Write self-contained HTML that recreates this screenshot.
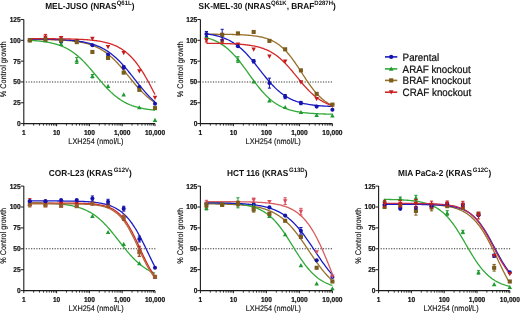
<!DOCTYPE html>
<html><head><meta charset="utf-8"><style>
html,body{margin:0;padding:0;background:#fff;width:520px;height:313px;overflow:hidden}
svg{display:block;will-change:transform}
text{font-family:'Liberation Sans', sans-serif;fill:#111;text-rendering:geometricPrecision}
.tk{font-size:6.6px;font-weight:bold;stroke:#1a1a1a;stroke-width:0.2px}
.at{font-size:7.3px;stroke:#111;stroke-width:0.12px}
.ti{font-size:8.3px;font-weight:bold}
.sup{font-size:6px}
.lg{font-size:9.8px;stroke:#111;stroke-width:0.22px}
</style></head><body>
<svg width="520" height="313" viewBox="0 0 520 313">
<line x1="25.80" y1="81.95" x2="156.00" y2="81.95" stroke="#333" stroke-width="1.1" stroke-dasharray="1.2 1.42"/>
<polyline points="29.80,39.40 30.85,39.41 31.89,39.42 32.93,39.42 33.98,39.43 35.02,39.44 36.06,39.45 37.11,39.46 38.15,39.48 39.19,39.49 40.24,39.50 41.28,39.52 42.32,39.53 43.37,39.55 44.41,39.57 45.45,39.59 46.50,39.61 47.54,39.63 48.58,39.65 49.63,39.68 50.67,39.70 51.71,39.73 52.76,39.76 53.80,39.80 54.84,39.83 55.89,39.87 56.93,39.91 57.97,39.96 59.02,40.00 60.06,40.05 61.10,40.11 62.15,40.16 63.19,40.23 64.23,40.29 65.28,40.36 66.32,40.44 67.36,40.52 68.41,40.60 69.45,40.70 70.49,40.80 71.54,40.90 72.58,41.01 73.62,41.13 74.67,41.26 75.71,41.40 76.75,41.55 77.80,41.70 78.84,41.87 79.88,42.05 80.93,42.24 81.97,42.44 83.01,42.66 84.06,42.89 85.10,43.13 86.14,43.39 87.19,43.67 88.23,43.97 89.27,44.28 90.32,44.61 91.36,44.97 92.40,45.34 93.44,45.74 94.49,46.16 95.53,46.61 96.57,47.08 97.62,47.58 98.66,48.10 99.70,48.66 100.75,49.24 101.79,49.85 102.83,50.50 103.88,51.18 104.92,51.89 105.96,52.63 107.01,53.41 108.05,54.22 109.09,55.07 110.14,55.95 111.18,56.87 112.22,57.82 113.27,58.80 114.31,59.82 115.35,60.87 116.40,61.95 117.44,63.06 118.48,64.20 119.53,65.36 120.57,66.55 121.61,67.76 122.66,68.99 123.70,70.24 124.74,71.51 125.79,72.78 126.83,74.07 127.87,75.35 128.92,76.65 129.96,77.94 131.00,79.23 132.05,80.51 133.09,81.78 134.13,83.04 135.18,84.28 136.22,85.51 137.26,86.71 138.31,87.90 139.35,89.05 140.39,90.18 141.44,91.28 142.48,92.36 143.52,93.39 144.57,94.40 145.61,95.38 146.65,96.32 147.70,97.22 148.74,98.09 149.78,98.93 150.83,99.73 151.87,100.50 152.91,101.23 153.96,101.94 155.00,102.60" fill="none" stroke="#967028" stroke-width="1.3"/>
<polyline points="29.80,40.33 30.85,40.39 31.89,40.46 32.93,40.53 33.98,40.60 35.02,40.68 36.06,40.77 37.11,40.86 38.15,40.96 39.19,41.07 40.24,41.18 41.28,41.30 42.32,41.43 43.37,41.56 44.41,41.71 45.45,41.87 46.50,42.03 47.54,42.21 48.58,42.40 49.63,42.60 50.67,42.82 51.71,43.05 52.76,43.29 53.80,43.55 54.84,43.83 55.89,44.12 56.93,44.43 57.97,44.77 59.02,45.12 60.06,45.49 61.10,45.89 62.15,46.31 63.19,46.75 64.23,47.22 65.28,47.71 66.32,48.23 67.36,48.78 68.41,49.36 69.45,49.97 70.49,50.61 71.54,51.28 72.58,51.99 73.62,52.72 74.67,53.49 75.71,54.29 76.75,55.13 77.80,56.00 78.84,56.90 79.88,57.84 80.93,58.81 81.97,59.81 83.01,60.84 84.06,61.90 85.10,62.99 86.14,64.10 87.19,65.24 88.23,66.41 89.27,67.59 90.32,68.79 91.36,70.01 92.40,71.24 93.44,72.48 94.49,73.73 95.53,74.98 96.57,76.23 97.62,77.48 98.66,78.73 99.70,79.97 100.75,81.20 101.79,82.41 102.83,83.61 103.88,84.79 104.92,85.95 105.96,87.09 107.01,88.20 108.05,89.28 109.09,90.34 110.14,91.36 111.18,92.36 112.22,93.32 113.27,94.25 114.31,95.15 115.35,96.01 116.40,96.84 117.44,97.64 118.48,98.40 119.53,99.13 120.57,99.83 121.61,100.49 122.66,101.13 123.70,101.73 124.74,102.31 125.79,102.85 126.83,103.37 127.87,103.86 128.92,104.32 129.96,104.76 131.00,105.17 132.05,105.57 133.09,105.93 134.13,106.28 135.18,106.61 136.22,106.92 137.26,107.21 138.31,107.48 139.35,107.74 140.39,107.98 141.44,108.21 142.48,108.42 143.52,108.62 144.57,108.81 145.61,108.99 146.65,109.15 147.70,109.31 148.74,109.45 149.78,109.59 150.83,109.71 151.87,109.83 152.91,109.94 153.96,110.05 155.00,110.14" fill="none" stroke="#33a93a" stroke-width="1.3"/>
<polyline points="29.80,39.07 30.85,39.08 31.89,39.09 32.93,39.10 33.98,39.11 35.02,39.12 36.06,39.13 37.11,39.14 38.15,39.15 39.19,39.16 40.24,39.17 41.28,39.19 42.32,39.20 43.37,39.22 44.41,39.23 45.45,39.25 46.50,39.27 47.54,39.29 48.58,39.32 49.63,39.34 50.67,39.36 51.71,39.39 52.76,39.42 53.80,39.45 54.84,39.48 55.89,39.52 56.93,39.56 57.97,39.60 59.02,39.64 60.06,39.68 61.10,39.73 62.15,39.78 63.19,39.84 64.23,39.90 65.28,39.96 66.32,40.03 67.36,40.10 68.41,40.17 69.45,40.25 70.49,40.34 71.54,40.43 72.58,40.53 73.62,40.63 74.67,40.74 75.71,40.86 76.75,40.99 77.80,41.12 78.84,41.26 79.88,41.42 80.93,41.58 81.97,41.75 83.01,41.93 84.06,42.13 85.10,42.33 86.14,42.55 87.19,42.78 88.23,43.03 89.27,43.29 90.32,43.57 91.36,43.87 92.40,44.18 93.44,44.51 94.49,44.86 95.53,45.23 96.57,45.62 97.62,46.03 98.66,46.47 99.70,46.93 100.75,47.42 101.79,47.93 102.83,48.47 103.88,49.03 104.92,49.63 105.96,50.25 107.01,50.91 108.05,51.59 109.09,52.31 110.14,53.06 111.18,53.84 112.22,54.66 113.27,55.51 114.31,56.39 115.35,57.31 116.40,58.26 117.44,59.24 118.48,60.26 119.53,61.31 120.57,62.39 121.61,63.49 122.66,64.63 123.70,65.80 124.74,66.99 125.79,68.21 126.83,69.44 127.87,70.70 128.92,71.98 129.96,73.27 131.00,74.57 132.05,75.88 133.09,77.20 134.13,78.53 135.18,79.85 136.22,81.18 137.26,82.50 138.31,83.81 139.35,85.11 140.39,86.41 141.44,87.68 142.48,88.94 143.52,90.18 144.57,91.39 145.61,92.58 146.65,93.75 147.70,94.89 148.74,96.00 149.78,97.08 150.83,98.13 151.87,99.14 152.91,100.13 153.96,101.08 155.00,102.00" fill="none" stroke="#1c1cc4" stroke-width="1.3"/>
<polyline points="29.80,38.66 30.85,38.66 31.89,38.66 32.93,38.66 33.98,38.67 35.02,38.67 36.06,38.67 37.11,38.67 38.15,38.68 39.19,38.68 40.24,38.68 41.28,38.69 42.32,38.69 43.37,38.70 44.41,38.70 45.45,38.71 46.50,38.71 47.54,38.72 48.58,38.72 49.63,38.73 50.67,38.73 51.71,38.74 52.76,38.75 53.80,38.76 54.84,38.77 55.89,38.78 56.93,38.79 57.97,38.80 59.02,38.81 60.06,38.82 61.10,38.84 62.15,38.85 63.19,38.87 64.23,38.88 65.28,38.90 66.32,38.92 67.36,38.94 68.41,38.96 69.45,38.99 70.49,39.01 71.54,39.04 72.58,39.07 73.62,39.10 74.67,39.13 75.71,39.17 76.75,39.21 77.80,39.25 78.84,39.29 79.88,39.34 80.93,39.39 81.97,39.44 83.01,39.50 84.06,39.56 85.10,39.63 86.14,39.70 87.19,39.77 88.23,39.86 89.27,39.94 90.32,40.04 91.36,40.14 92.40,40.24 93.44,40.36 94.49,40.48 95.53,40.61 96.57,40.75 97.62,40.90 98.66,41.06 99.70,41.23 100.75,41.41 101.79,41.61 102.83,41.82 103.88,42.04 104.92,42.28 105.96,42.53 107.01,42.80 108.05,43.09 109.09,43.40 110.14,43.73 111.18,44.08 112.22,44.45 113.27,44.85 114.31,45.27 115.35,45.72 116.40,46.20 117.44,46.70 118.48,47.24 119.53,47.82 120.57,48.42 121.61,49.07 122.66,49.75 123.70,50.47 124.74,51.23 125.79,52.03 126.83,52.88 127.87,53.78 128.92,54.72 129.96,55.71 131.00,56.76 132.05,57.85 133.09,59.00 134.13,60.20 135.18,61.45 136.22,62.76 137.26,64.12 138.31,65.54 139.35,67.01 140.39,68.54 141.44,70.12 142.48,71.76 143.52,73.44 144.57,75.18 145.61,76.96 146.65,78.78 147.70,80.64 148.74,82.55 149.78,84.49 150.83,86.45 151.87,88.45 152.91,90.47 153.96,92.50 155.00,94.55" fill="none" stroke="#d42828" stroke-width="1.3"/>
<circle cx="29.80" cy="40.30" r="2.05" fill="#1414ac"/>
<circle cx="45.45" cy="39.05" r="2.05" fill="#1414ac"/>
<circle cx="61.10" cy="41.63" r="2.05" fill="#1414ac"/>
<circle cx="76.75" cy="41.13" r="2.05" fill="#1414ac"/>
<circle cx="92.40" cy="45.30" r="2.05" fill="#1414ac"/>
<circle cx="108.05" cy="54.46" r="2.05" fill="#1414ac"/>
<path d="M123.70,65.71V69.04M122.10,65.71h3.2M122.10,69.04h3.2" stroke="#1414ac" stroke-width="1" fill="none"/>
<circle cx="123.70" cy="67.37" r="2.05" fill="#1414ac"/>
<circle cx="139.35" cy="87.11" r="2.05" fill="#1414ac"/>
<circle cx="155.00" cy="103.77" r="2.05" fill="#1414ac"/>
<path d="M29.80,37.95L32.05,42.15L27.55,42.15Z" fill="#1f9a30"/>
<path d="M45.45,37.95L47.70,42.15L43.20,42.15Z" fill="#1f9a30"/>
<path d="M61.10,41.78L63.35,45.98L58.85,45.98Z" fill="#1f9a30"/>
<path d="M76.75,57.63V63.46M75.15,57.63h3.2M75.15,63.46h3.2" stroke="#1f9a30" stroke-width="1" fill="none"/>
<path d="M76.75,58.19L79.00,62.39L74.50,62.39Z" fill="#1f9a30"/>
<path d="M92.40,74.54V77.87M90.80,74.54h3.2M90.80,77.87h3.2" stroke="#1f9a30" stroke-width="1" fill="none"/>
<path d="M92.40,73.85L94.65,78.05L90.15,78.05Z" fill="#1f9a30"/>
<path d="M108.05,83.85L110.30,88.05L105.80,88.05Z" fill="#1f9a30"/>
<path d="M123.70,92.34L125.95,96.54L121.45,96.54Z" fill="#1f9a30"/>
<path d="M139.35,105.17L141.60,109.37L137.10,109.37Z" fill="#1f9a30"/>
<path d="M155.00,117.83L157.25,122.03L152.75,122.03Z" fill="#1f9a30"/>
<path d="M29.80,42.65L32.05,38.45L27.55,38.45Z" fill="#c41c1c"/>
<path d="M45.45,34.39V40.22M43.85,34.39h3.2M43.85,40.22h3.2" stroke="#c41c1c" stroke-width="1" fill="none"/>
<path d="M45.45,39.65L47.70,35.45L43.20,35.45Z" fill="#c41c1c"/>
<path d="M61.10,36.47V39.80M59.50,36.47h3.2M59.50,39.80h3.2" stroke="#c41c1c" stroke-width="1" fill="none"/>
<path d="M61.10,40.48L63.35,36.28L58.85,36.28Z" fill="#c41c1c"/>
<path d="M76.75,43.48L79.00,39.28L74.50,39.28Z" fill="#c41c1c"/>
<path d="M92.40,40.98L94.65,36.78L90.15,36.78Z" fill="#c41c1c"/>
<path d="M108.05,49.15L110.30,44.95L105.80,44.95Z" fill="#c41c1c"/>
<path d="M123.70,55.23L125.95,51.03L121.45,51.03Z" fill="#c41c1c"/>
<path d="M139.35,73.47L141.60,69.27L137.10,69.27Z" fill="#c41c1c"/>
<path d="M155.00,99.88L157.25,95.68L152.75,95.68Z" fill="#c41c1c"/>
<rect x="27.75" y="38.25" width="4.10" height="4.10" fill="#7a5c1c"/>
<rect x="43.40" y="37.42" width="4.10" height="4.10" fill="#7a5c1c"/>
<rect x="59.05" y="38.25" width="4.10" height="4.10" fill="#7a5c1c"/>
<rect x="74.70" y="40.08" width="4.10" height="4.10" fill="#7a5c1c"/>
<rect x="90.35" y="49.91" width="4.10" height="4.10" fill="#7a5c1c"/>
<rect x="106.00" y="55.91" width="4.10" height="4.10" fill="#7a5c1c"/>
<rect x="121.65" y="70.57" width="4.10" height="4.10" fill="#7a5c1c"/>
<rect x="137.30" y="87.81" width="4.10" height="4.10" fill="#7a5c1c"/>
<rect x="152.95" y="106.06" width="4.10" height="4.10" fill="#7a5c1c"/>
<line x1="23.80" y1="19.47" x2="23.80" y2="124.10" stroke="#1a1a1a" stroke-width="1.1"/>
<line x1="23.30" y1="123.60" x2="155.00" y2="123.60" stroke="#1a1a1a" stroke-width="1.1"/>
<line x1="20.80" y1="123.60" x2="23.80" y2="123.60" stroke="#1a1a1a" stroke-width="1"/>
<text transform="translate(20.70,126.00) scale(1,1.08)" text-anchor="end" class="tk">0</text>
<line x1="20.80" y1="102.77" x2="23.80" y2="102.77" stroke="#1a1a1a" stroke-width="1"/>
<text transform="translate(20.70,105.17) scale(1,1.08)" text-anchor="end" class="tk">25</text>
<line x1="20.80" y1="81.95" x2="23.80" y2="81.95" stroke="#1a1a1a" stroke-width="1"/>
<text transform="translate(20.70,84.35) scale(1,1.08)" text-anchor="end" class="tk">50</text>
<line x1="20.80" y1="61.12" x2="23.80" y2="61.12" stroke="#1a1a1a" stroke-width="1"/>
<text transform="translate(20.70,63.52) scale(1,1.08)" text-anchor="end" class="tk">75</text>
<line x1="20.80" y1="40.30" x2="23.80" y2="40.30" stroke="#1a1a1a" stroke-width="1"/>
<text transform="translate(20.70,42.70) scale(1,1.08)" text-anchor="end" class="tk">100</text>
<line x1="20.80" y1="19.47" x2="23.80" y2="19.47" stroke="#1a1a1a" stroke-width="1"/>
<text transform="translate(20.70,21.87) scale(1,1.08)" text-anchor="end" class="tk">125</text>
<line x1="23.80" y1="123.60" x2="23.80" y2="126.20" stroke="#1a1a1a" stroke-width="1"/>
<text transform="translate(23.80,134.50) scale(1,1.08)" text-anchor="middle" class="tk">1</text>
<line x1="33.67" y1="123.60" x2="33.67" y2="125.60" stroke="#1a1a1a" stroke-width="0.9"/>
<line x1="39.45" y1="123.60" x2="39.45" y2="125.60" stroke="#1a1a1a" stroke-width="0.9"/>
<line x1="43.55" y1="123.60" x2="43.55" y2="125.60" stroke="#1a1a1a" stroke-width="0.9"/>
<line x1="46.73" y1="123.60" x2="46.73" y2="125.60" stroke="#1a1a1a" stroke-width="0.9"/>
<line x1="49.32" y1="123.60" x2="49.32" y2="125.60" stroke="#1a1a1a" stroke-width="0.9"/>
<line x1="51.52" y1="123.60" x2="51.52" y2="125.60" stroke="#1a1a1a" stroke-width="0.9"/>
<line x1="53.42" y1="123.60" x2="53.42" y2="125.60" stroke="#1a1a1a" stroke-width="0.9"/>
<line x1="55.10" y1="123.60" x2="55.10" y2="125.60" stroke="#1a1a1a" stroke-width="0.9"/>
<line x1="56.60" y1="123.60" x2="56.60" y2="126.20" stroke="#1a1a1a" stroke-width="1"/>
<text transform="translate(56.60,134.50) scale(1,1.08)" text-anchor="middle" class="tk">10</text>
<line x1="66.47" y1="123.60" x2="66.47" y2="125.60" stroke="#1a1a1a" stroke-width="0.9"/>
<line x1="72.25" y1="123.60" x2="72.25" y2="125.60" stroke="#1a1a1a" stroke-width="0.9"/>
<line x1="76.35" y1="123.60" x2="76.35" y2="125.60" stroke="#1a1a1a" stroke-width="0.9"/>
<line x1="79.53" y1="123.60" x2="79.53" y2="125.60" stroke="#1a1a1a" stroke-width="0.9"/>
<line x1="82.12" y1="123.60" x2="82.12" y2="125.60" stroke="#1a1a1a" stroke-width="0.9"/>
<line x1="84.32" y1="123.60" x2="84.32" y2="125.60" stroke="#1a1a1a" stroke-width="0.9"/>
<line x1="86.22" y1="123.60" x2="86.22" y2="125.60" stroke="#1a1a1a" stroke-width="0.9"/>
<line x1="87.90" y1="123.60" x2="87.90" y2="125.60" stroke="#1a1a1a" stroke-width="0.9"/>
<line x1="89.40" y1="123.60" x2="89.40" y2="126.20" stroke="#1a1a1a" stroke-width="1"/>
<text transform="translate(89.40,134.50) scale(1,1.08)" text-anchor="middle" class="tk">100</text>
<line x1="99.27" y1="123.60" x2="99.27" y2="125.60" stroke="#1a1a1a" stroke-width="0.9"/>
<line x1="105.05" y1="123.60" x2="105.05" y2="125.60" stroke="#1a1a1a" stroke-width="0.9"/>
<line x1="109.15" y1="123.60" x2="109.15" y2="125.60" stroke="#1a1a1a" stroke-width="0.9"/>
<line x1="112.33" y1="123.60" x2="112.33" y2="125.60" stroke="#1a1a1a" stroke-width="0.9"/>
<line x1="114.92" y1="123.60" x2="114.92" y2="125.60" stroke="#1a1a1a" stroke-width="0.9"/>
<line x1="117.12" y1="123.60" x2="117.12" y2="125.60" stroke="#1a1a1a" stroke-width="0.9"/>
<line x1="119.02" y1="123.60" x2="119.02" y2="125.60" stroke="#1a1a1a" stroke-width="0.9"/>
<line x1="120.70" y1="123.60" x2="120.70" y2="125.60" stroke="#1a1a1a" stroke-width="0.9"/>
<line x1="122.20" y1="123.60" x2="122.20" y2="126.20" stroke="#1a1a1a" stroke-width="1"/>
<text transform="translate(122.20,134.50) scale(1,1.08)" text-anchor="middle" class="tk">1,000</text>
<line x1="132.07" y1="123.60" x2="132.07" y2="125.60" stroke="#1a1a1a" stroke-width="0.9"/>
<line x1="137.85" y1="123.60" x2="137.85" y2="125.60" stroke="#1a1a1a" stroke-width="0.9"/>
<line x1="141.95" y1="123.60" x2="141.95" y2="125.60" stroke="#1a1a1a" stroke-width="0.9"/>
<line x1="145.13" y1="123.60" x2="145.13" y2="125.60" stroke="#1a1a1a" stroke-width="0.9"/>
<line x1="147.72" y1="123.60" x2="147.72" y2="125.60" stroke="#1a1a1a" stroke-width="0.9"/>
<line x1="149.92" y1="123.60" x2="149.92" y2="125.60" stroke="#1a1a1a" stroke-width="0.9"/>
<line x1="151.82" y1="123.60" x2="151.82" y2="125.60" stroke="#1a1a1a" stroke-width="0.9"/>
<line x1="153.50" y1="123.60" x2="153.50" y2="125.60" stroke="#1a1a1a" stroke-width="0.9"/>
<line x1="155.00" y1="123.60" x2="155.00" y2="126.20" stroke="#1a1a1a" stroke-width="1"/>
<text transform="translate(155.00,134.50) scale(1,1.08)" text-anchor="middle" class="tk">10,000</text>
<text transform="translate(95.95,144.00) scale(1,1.12)" text-anchor="middle" class="at">LXH254 (nmol/L)</text>
<text transform="translate(6.30,69.30) rotate(-90) scale(1,1.12)" text-anchor="middle" class="at" style="font-size:7.3px">% Control growth</text>
<text transform="translate(45.20,8.60) scale(1,1.05)" class="ti"><tspan>MEL-JUSO (NRAS</tspan><tspan class="sup" dy="-3.2">Q61L</tspan><tspan dy="3.2">)</tspan></text>
<line x1="202.40" y1="81.95" x2="333.40" y2="81.95" stroke="#333" stroke-width="1.1" stroke-dasharray="1.2 1.42"/>
<polyline points="206.44,34.22 207.49,34.23 208.54,34.23 209.59,34.23 210.64,34.24 211.69,34.24 212.74,34.25 213.79,34.25 214.84,34.26 215.89,34.26 216.94,34.27 217.99,34.28 219.04,34.29 220.09,34.29 221.14,34.30 222.18,34.31 223.23,34.33 224.28,34.34 225.33,34.35 226.38,34.37 227.43,34.38 228.48,34.40 229.53,34.42 230.58,34.44 231.63,34.46 232.68,34.48 233.73,34.51 234.78,34.54 235.83,34.57 236.88,34.60 237.93,34.64 238.98,34.68 240.03,34.72 241.08,34.77 242.13,34.82 243.18,34.88 244.23,34.94 245.28,35.00 246.33,35.07 247.38,35.15 248.43,35.23 249.48,35.32 250.53,35.42 251.58,35.53 252.63,35.64 253.67,35.77 254.72,35.91 255.77,36.05 256.82,36.21 257.87,36.39 258.92,36.58 259.97,36.78 261.02,37.00 262.07,37.24 263.12,37.49 264.17,37.77 265.22,38.07 266.27,38.40 267.32,38.74 268.37,39.12 269.42,39.53 270.47,39.96 271.52,40.43 272.57,40.93 273.62,41.47 274.67,42.04 275.72,42.66 276.77,43.32 277.82,44.02 278.87,44.76 279.92,45.56 280.97,46.40 282.02,47.29 283.07,48.24 284.12,49.24 285.16,50.28 286.21,51.39 287.26,52.54 288.31,53.75 289.36,55.01 290.41,56.31 291.46,57.67 292.51,59.07 293.56,60.52 294.61,62.00 295.66,63.52 296.71,65.07 297.76,66.65 298.81,68.24 299.86,69.86 300.91,71.48 301.96,73.11 303.01,74.74 304.06,76.36 305.11,77.97 306.16,79.57 307.21,81.13 308.26,82.67 309.31,84.18 310.36,85.65 311.41,87.08 312.46,88.47 313.51,89.81 314.56,91.10 315.61,92.34 316.65,93.53 317.70,94.66 318.75,95.75 319.80,96.78 320.85,97.75 321.90,98.68 322.95,99.56 324.00,100.38 325.05,101.16 326.10,101.89 327.15,102.58 328.20,103.22 329.25,103.82 330.30,104.38 331.35,104.91 332.40,105.40" fill="none" stroke="#967028" stroke-width="1.3"/>
<polyline points="206.44,37.72 207.49,38.01 208.54,38.32 209.59,38.65 210.64,39.00 211.69,39.37 212.74,39.77 213.79,40.20 214.84,40.65 215.89,41.13 216.94,41.63 217.99,42.17 219.04,42.74 220.09,43.34 221.14,43.98 222.18,44.65 223.23,45.36 224.28,46.11 225.33,46.89 226.38,47.71 227.43,48.58 228.48,49.48 229.53,50.42 230.58,51.41 231.63,52.43 232.68,53.50 233.73,54.60 234.78,55.75 235.83,56.93 236.88,58.15 237.93,59.41 238.98,60.70 240.03,62.02 241.08,63.37 242.13,64.74 243.18,66.14 244.23,67.56 245.28,68.99 246.33,70.44 247.38,71.90 248.43,73.36 249.48,74.83 250.53,76.29 251.58,77.75 252.63,79.19 253.67,80.63 254.72,82.04 255.77,83.44 256.82,84.81 257.87,86.16 258.92,87.48 259.97,88.76 261.02,90.02 262.07,91.23 263.12,92.41 264.17,93.56 265.22,94.66 266.27,95.72 267.32,96.75 268.37,97.73 269.42,98.67 270.47,99.57 271.52,100.43 272.57,101.25 273.62,102.03 274.67,102.77 275.72,103.48 276.77,104.14 277.82,104.78 278.87,105.38 279.92,105.95 280.97,106.48 282.02,106.99 283.07,107.46 284.12,107.91 285.16,108.33 286.21,108.73 287.26,109.10 288.31,109.45 289.36,109.78 290.41,110.09 291.46,110.38 292.51,110.65 293.56,110.90 294.61,111.14 295.66,111.36 296.71,111.57 297.76,111.76 298.81,111.94 299.86,112.11 300.91,112.27 301.96,112.42 303.01,112.56 304.06,112.69 305.11,112.81 306.16,112.92 307.21,113.02 308.26,113.12 309.31,113.21 310.36,113.29 311.41,113.37 312.46,113.45 313.51,113.52 314.56,113.58 315.61,113.64 316.65,113.69 317.70,113.75 318.75,113.79 319.80,113.84 320.85,113.88 321.90,113.92 322.95,113.95 324.00,113.99 325.05,114.02 326.10,114.05 327.15,114.08 328.20,114.10 329.25,114.12 330.30,114.15 331.35,114.17 332.40,114.19" fill="none" stroke="#33a93a" stroke-width="1.3"/>
<polyline points="206.44,33.91 207.49,34.05 208.54,34.20 209.59,34.37 210.64,34.54 211.69,34.72 212.74,34.92 213.79,35.13 214.84,35.35 215.89,35.59 216.94,35.85 217.99,36.12 219.04,36.41 220.09,36.72 221.14,37.05 222.18,37.40 223.23,37.78 224.28,38.17 225.33,38.59 226.38,39.04 227.43,39.51 228.48,40.01 229.53,40.54 230.58,41.10 231.63,41.69 232.68,42.32 233.73,42.97 234.78,43.67 235.83,44.39 236.88,45.15 237.93,45.95 238.98,46.79 240.03,47.66 241.08,48.57 242.13,49.51 243.18,50.50 244.23,51.52 245.28,52.57 246.33,53.66 247.38,54.78 248.43,55.94 249.48,57.12 250.53,58.34 251.58,59.58 252.63,60.84 253.67,62.12 254.72,63.43 255.77,64.74 256.82,66.07 257.87,67.41 258.92,68.75 259.97,70.10 261.02,71.44 262.07,72.78 263.12,74.11 264.17,75.43 265.22,76.73 266.27,78.02 267.32,79.28 268.37,80.52 269.42,81.74 270.47,82.92 271.52,84.08 272.57,85.20 273.62,86.29 274.67,87.35 275.72,88.37 276.77,89.36 277.82,90.30 278.87,91.21 279.92,92.09 280.97,92.92 282.02,93.72 283.07,94.49 284.12,95.21 285.16,95.91 286.21,96.57 287.26,97.19 288.31,97.78 289.36,98.34 290.41,98.88 291.46,99.38 292.51,99.85 293.56,100.30 294.61,100.72 295.66,101.12 296.71,101.49 297.76,101.84 298.81,102.17 299.86,102.49 300.91,102.78 301.96,103.05 303.01,103.31 304.06,103.55 305.11,103.77 306.16,103.98 307.21,104.18 308.26,104.36 309.31,104.54 310.36,104.70 311.41,104.85 312.46,104.99 313.51,105.12 314.56,105.25 315.61,105.36 316.65,105.47 317.70,105.57 318.75,105.66 319.80,105.75 320.85,105.83 321.90,105.91 322.95,105.98 324.00,106.04 325.05,106.10 326.10,106.16 327.15,106.21 328.20,106.26 329.25,106.31 330.30,106.35 331.35,106.39 332.40,106.43" fill="none" stroke="#1c1cc4" stroke-width="1.3"/>
<polyline points="206.44,43.31 207.49,43.31 208.54,43.32 209.59,43.33 210.64,43.34 211.69,43.35 212.74,43.36 213.79,43.37 214.84,43.38 215.89,43.40 216.94,43.41 217.99,43.43 219.04,43.44 220.09,43.46 221.14,43.48 222.18,43.50 223.23,43.52 224.28,43.55 225.33,43.57 226.38,43.60 227.43,43.63 228.48,43.67 229.53,43.70 230.58,43.74 231.63,43.78 232.68,43.83 233.73,43.88 234.78,43.93 235.83,43.98 236.88,44.04 237.93,44.11 238.98,44.18 240.03,44.26 241.08,44.34 242.13,44.42 243.18,44.52 244.23,44.62 245.28,44.73 246.33,44.85 247.38,44.98 248.43,45.11 249.48,45.26 250.53,45.42 251.58,45.59 252.63,45.77 253.67,45.96 254.72,46.17 255.77,46.40 256.82,46.64 257.87,46.90 258.92,47.17 259.97,47.47 261.02,47.78 262.07,48.12 263.12,48.48 264.17,48.87 265.22,49.28 266.27,49.71 267.32,50.18 268.37,50.67 269.42,51.20 270.47,51.75 271.52,52.34 272.57,52.96 273.62,53.62 274.67,54.31 275.72,55.04 276.77,55.81 277.82,56.61 278.87,57.45 279.92,58.33 280.97,59.25 282.02,60.21 283.07,61.20 284.12,62.23 285.16,63.29 286.21,64.39 287.26,65.51 288.31,66.67 289.36,67.85 290.41,69.06 291.46,70.29 292.51,71.54 293.56,72.80 294.61,74.08 295.66,75.36 296.71,76.64 297.76,77.93 298.81,79.21 299.86,80.49 300.91,81.75 301.96,83.00 303.01,84.24 304.06,85.45 305.11,86.63 306.16,87.80 307.21,88.93 308.26,90.03 309.31,91.10 310.36,92.13 311.41,93.13 312.46,94.09 313.51,95.01 314.56,95.90 315.61,96.75 316.65,97.56 317.70,98.33 318.75,99.06 319.80,99.76 320.85,100.42 321.90,101.05 322.95,101.65 324.00,102.21 325.05,102.73 326.10,103.23 327.15,103.70 328.20,104.14 329.25,104.56 330.30,104.95 331.35,105.31 332.40,105.65" fill="none" stroke="#d42828" stroke-width="1.3"/>
<path d="M206.44,34.20L208.69,38.40L204.19,38.40Z" fill="#1f9a30"/>
<path d="M222.18,37.95L224.43,42.15L219.93,42.15Z" fill="#1f9a30"/>
<path d="M237.93,56.71V62.54M236.33,56.71h3.2M236.33,62.54h3.2" stroke="#1f9a30" stroke-width="1" fill="none"/>
<path d="M237.93,57.28L240.18,61.48L235.68,61.48Z" fill="#1f9a30"/>
<path d="M253.67,79.18L255.92,83.38L251.42,83.38Z" fill="#1f9a30"/>
<path d="M269.42,98.26L271.67,102.46L267.17,102.46Z" fill="#1f9a30"/>
<path d="M285.16,104.92L287.41,109.12L282.91,109.12Z" fill="#1f9a30"/>
<path d="M300.91,109.92L303.16,114.12L298.66,114.12Z" fill="#1f9a30"/>
<path d="M316.65,112.75L318.90,116.95L314.40,116.95Z" fill="#1f9a30"/>
<path d="M332.40,113.34L334.65,117.54L330.15,117.54Z" fill="#1f9a30"/>
<path d="M206.44,38.72V42.05M204.84,38.72h3.2M204.84,42.05h3.2" stroke="#c41c1c" stroke-width="1" fill="none"/>
<path d="M206.44,42.73L208.69,38.53L204.19,38.53Z" fill="#c41c1c"/>
<path d="M222.18,39.47V42.80M220.58,39.47h3.2M220.58,42.80h3.2" stroke="#c41c1c" stroke-width="1" fill="none"/>
<path d="M222.18,43.48L224.43,39.28L219.93,39.28Z" fill="#c41c1c"/>
<path d="M237.93,46.65L240.18,42.45L235.68,42.45Z" fill="#c41c1c"/>
<path d="M253.67,51.65L255.92,47.45L251.42,47.45Z" fill="#c41c1c"/>
<path d="M269.42,58.64L271.67,54.44L267.17,54.44Z" fill="#c41c1c"/>
<path d="M285.16,63.64L287.41,59.44L282.91,59.44Z" fill="#c41c1c"/>
<path d="M300.91,84.47L303.16,80.27L298.66,80.27Z" fill="#c41c1c"/>
<path d="M316.65,101.29L318.90,97.09L314.40,97.09Z" fill="#c41c1c"/>
<path d="M332.40,107.96L334.65,103.76L330.15,103.76Z" fill="#c41c1c"/>
<path d="M206.44,31.47V36.47M204.84,31.47h3.2M204.84,36.47h3.2" stroke="#1414ac" stroke-width="1" fill="none"/>
<circle cx="206.44" cy="33.97" r="2.05" fill="#1414ac"/>
<path d="M222.18,29.30V40.13M220.58,29.30h3.2M220.58,40.13h3.2" stroke="#1414ac" stroke-width="1" fill="none"/>
<circle cx="222.18" cy="34.72" r="2.05" fill="#1414ac"/>
<circle cx="237.93" cy="46.21" r="2.05" fill="#1414ac"/>
<path d="M253.67,59.63V62.96M252.07,59.63h3.2M252.07,62.96h3.2" stroke="#1414ac" stroke-width="1" fill="none"/>
<circle cx="253.67" cy="61.29" r="2.05" fill="#1414ac"/>
<path d="M269.42,78.12V88.11M267.82,78.12h3.2M267.82,88.11h3.2" stroke="#1414ac" stroke-width="1" fill="none"/>
<circle cx="269.42" cy="83.12" r="2.05" fill="#1414ac"/>
<path d="M285.16,94.53V98.69M283.56,94.53h3.2M283.56,98.69h3.2" stroke="#1414ac" stroke-width="1" fill="none"/>
<circle cx="285.16" cy="96.61" r="2.05" fill="#1414ac"/>
<path d="M300.91,101.36V104.69M299.31,101.36h3.2M299.31,104.69h3.2" stroke="#1414ac" stroke-width="1" fill="none"/>
<circle cx="300.91" cy="103.02" r="2.05" fill="#1414ac"/>
<circle cx="316.65" cy="106.61" r="2.05" fill="#1414ac"/>
<circle cx="332.40" cy="109.69" r="2.05" fill="#1414ac"/>
<rect x="220.13" y="32.67" width="4.10" height="4.10" fill="#7a5c1c"/>
<rect x="235.88" y="31.34" width="4.10" height="4.10" fill="#7a5c1c"/>
<rect x="251.62" y="29.92" width="4.10" height="4.10" fill="#7a5c1c"/>
<rect x="267.37" y="38.83" width="4.10" height="4.10" fill="#7a5c1c"/>
<rect x="283.11" y="47.25" width="4.10" height="4.10" fill="#7a5c1c"/>
<rect x="298.86" y="68.32" width="4.10" height="4.10" fill="#7a5c1c"/>
<rect x="314.60" y="91.81" width="4.10" height="4.10" fill="#7a5c1c"/>
<rect x="330.35" y="102.56" width="4.10" height="4.10" fill="#7a5c1c"/>
<line x1="200.40" y1="19.47" x2="200.40" y2="124.10" stroke="#1a1a1a" stroke-width="1.1"/>
<line x1="199.90" y1="123.60" x2="332.40" y2="123.60" stroke="#1a1a1a" stroke-width="1.1"/>
<line x1="197.40" y1="123.60" x2="200.40" y2="123.60" stroke="#1a1a1a" stroke-width="1"/>
<text transform="translate(197.30,126.00) scale(1,1.08)" text-anchor="end" class="tk">0</text>
<line x1="197.40" y1="102.77" x2="200.40" y2="102.77" stroke="#1a1a1a" stroke-width="1"/>
<text transform="translate(197.30,105.17) scale(1,1.08)" text-anchor="end" class="tk">25</text>
<line x1="197.40" y1="81.95" x2="200.40" y2="81.95" stroke="#1a1a1a" stroke-width="1"/>
<text transform="translate(197.30,84.35) scale(1,1.08)" text-anchor="end" class="tk">50</text>
<line x1="197.40" y1="61.12" x2="200.40" y2="61.12" stroke="#1a1a1a" stroke-width="1"/>
<text transform="translate(197.30,63.52) scale(1,1.08)" text-anchor="end" class="tk">75</text>
<line x1="197.40" y1="40.30" x2="200.40" y2="40.30" stroke="#1a1a1a" stroke-width="1"/>
<text transform="translate(197.30,42.70) scale(1,1.08)" text-anchor="end" class="tk">100</text>
<line x1="197.40" y1="19.47" x2="200.40" y2="19.47" stroke="#1a1a1a" stroke-width="1"/>
<text transform="translate(197.30,21.87) scale(1,1.08)" text-anchor="end" class="tk">125</text>
<line x1="200.40" y1="123.60" x2="200.40" y2="126.20" stroke="#1a1a1a" stroke-width="1"/>
<text transform="translate(200.40,134.50) scale(1,1.08)" text-anchor="middle" class="tk">1</text>
<line x1="210.33" y1="123.60" x2="210.33" y2="125.60" stroke="#1a1a1a" stroke-width="0.9"/>
<line x1="216.15" y1="123.60" x2="216.15" y2="125.60" stroke="#1a1a1a" stroke-width="0.9"/>
<line x1="220.27" y1="123.60" x2="220.27" y2="125.60" stroke="#1a1a1a" stroke-width="0.9"/>
<line x1="223.47" y1="123.60" x2="223.47" y2="125.60" stroke="#1a1a1a" stroke-width="0.9"/>
<line x1="226.08" y1="123.60" x2="226.08" y2="125.60" stroke="#1a1a1a" stroke-width="0.9"/>
<line x1="228.29" y1="123.60" x2="228.29" y2="125.60" stroke="#1a1a1a" stroke-width="0.9"/>
<line x1="230.20" y1="123.60" x2="230.20" y2="125.60" stroke="#1a1a1a" stroke-width="0.9"/>
<line x1="231.89" y1="123.60" x2="231.89" y2="125.60" stroke="#1a1a1a" stroke-width="0.9"/>
<line x1="233.40" y1="123.60" x2="233.40" y2="126.20" stroke="#1a1a1a" stroke-width="1"/>
<text transform="translate(233.40,134.50) scale(1,1.08)" text-anchor="middle" class="tk">10</text>
<line x1="243.33" y1="123.60" x2="243.33" y2="125.60" stroke="#1a1a1a" stroke-width="0.9"/>
<line x1="249.15" y1="123.60" x2="249.15" y2="125.60" stroke="#1a1a1a" stroke-width="0.9"/>
<line x1="253.27" y1="123.60" x2="253.27" y2="125.60" stroke="#1a1a1a" stroke-width="0.9"/>
<line x1="256.47" y1="123.60" x2="256.47" y2="125.60" stroke="#1a1a1a" stroke-width="0.9"/>
<line x1="259.08" y1="123.60" x2="259.08" y2="125.60" stroke="#1a1a1a" stroke-width="0.9"/>
<line x1="261.29" y1="123.60" x2="261.29" y2="125.60" stroke="#1a1a1a" stroke-width="0.9"/>
<line x1="263.20" y1="123.60" x2="263.20" y2="125.60" stroke="#1a1a1a" stroke-width="0.9"/>
<line x1="264.89" y1="123.60" x2="264.89" y2="125.60" stroke="#1a1a1a" stroke-width="0.9"/>
<line x1="266.40" y1="123.60" x2="266.40" y2="126.20" stroke="#1a1a1a" stroke-width="1"/>
<text transform="translate(266.40,134.50) scale(1,1.08)" text-anchor="middle" class="tk">100</text>
<line x1="276.33" y1="123.60" x2="276.33" y2="125.60" stroke="#1a1a1a" stroke-width="0.9"/>
<line x1="282.15" y1="123.60" x2="282.15" y2="125.60" stroke="#1a1a1a" stroke-width="0.9"/>
<line x1="286.27" y1="123.60" x2="286.27" y2="125.60" stroke="#1a1a1a" stroke-width="0.9"/>
<line x1="289.47" y1="123.60" x2="289.47" y2="125.60" stroke="#1a1a1a" stroke-width="0.9"/>
<line x1="292.08" y1="123.60" x2="292.08" y2="125.60" stroke="#1a1a1a" stroke-width="0.9"/>
<line x1="294.29" y1="123.60" x2="294.29" y2="125.60" stroke="#1a1a1a" stroke-width="0.9"/>
<line x1="296.20" y1="123.60" x2="296.20" y2="125.60" stroke="#1a1a1a" stroke-width="0.9"/>
<line x1="297.89" y1="123.60" x2="297.89" y2="125.60" stroke="#1a1a1a" stroke-width="0.9"/>
<line x1="299.40" y1="123.60" x2="299.40" y2="126.20" stroke="#1a1a1a" stroke-width="1"/>
<text transform="translate(299.40,134.50) scale(1,1.08)" text-anchor="middle" class="tk">1,000</text>
<line x1="309.33" y1="123.60" x2="309.33" y2="125.60" stroke="#1a1a1a" stroke-width="0.9"/>
<line x1="315.15" y1="123.60" x2="315.15" y2="125.60" stroke="#1a1a1a" stroke-width="0.9"/>
<line x1="319.27" y1="123.60" x2="319.27" y2="125.60" stroke="#1a1a1a" stroke-width="0.9"/>
<line x1="322.47" y1="123.60" x2="322.47" y2="125.60" stroke="#1a1a1a" stroke-width="0.9"/>
<line x1="325.08" y1="123.60" x2="325.08" y2="125.60" stroke="#1a1a1a" stroke-width="0.9"/>
<line x1="327.29" y1="123.60" x2="327.29" y2="125.60" stroke="#1a1a1a" stroke-width="0.9"/>
<line x1="329.20" y1="123.60" x2="329.20" y2="125.60" stroke="#1a1a1a" stroke-width="0.9"/>
<line x1="330.89" y1="123.60" x2="330.89" y2="125.60" stroke="#1a1a1a" stroke-width="0.9"/>
<line x1="332.40" y1="123.60" x2="332.40" y2="126.20" stroke="#1a1a1a" stroke-width="1"/>
<text transform="translate(332.40,134.50) scale(1,1.08)" text-anchor="middle" class="tk">10,000</text>
<text transform="translate(273.15,144.00) scale(1,1.12)" text-anchor="middle" class="at">LXH254 (nmol/L)</text>
<text transform="translate(182.90,69.30) rotate(-90) scale(1,1.12)" text-anchor="middle" class="at" style="font-size:7.3px">% Control growth</text>
<text transform="translate(198.60,8.60) scale(1,1.05)" class="ti"><tspan>SK-MEL-30 (NRAS</tspan><tspan class="sup" dy="-3.2">Q61K</tspan><tspan dy="3.2">, BRAF</tspan><tspan class="sup" dy="-3.2">D287H</tspan><tspan dy="3.2">)</tspan></text>
<line x1="25.80" y1="248.80" x2="156.00" y2="248.80" stroke="#333" stroke-width="1.1" stroke-dasharray="1.2 1.42"/>
<polyline points="29.80,202.80 30.85,202.81 31.89,202.83 32.93,202.84 33.98,202.86 35.02,202.88 36.06,202.90 37.11,202.92 38.15,202.94 39.19,202.97 40.24,202.99 41.28,203.02 42.32,203.05 43.37,203.09 44.41,203.12 45.45,203.16 46.50,203.20 47.54,203.24 48.58,203.29 49.63,203.33 50.67,203.39 51.71,203.44 52.76,203.50 53.80,203.57 54.84,203.64 55.89,203.71 56.93,203.79 57.97,203.87 59.02,203.96 60.06,204.06 61.10,204.16 62.15,204.27 63.19,204.39 64.23,204.52 65.28,204.65 66.32,204.80 67.36,204.95 68.41,205.12 69.45,205.29 70.49,205.48 71.54,205.68 72.58,205.89 73.62,206.12 74.67,206.36 75.71,206.62 76.75,206.90 77.80,207.19 78.84,207.50 79.88,207.83 80.93,208.18 81.97,208.55 83.01,208.95 84.06,209.37 85.10,209.81 86.14,210.28 87.19,210.77 88.23,211.30 89.27,211.85 90.32,212.44 91.36,213.05 92.40,213.70 93.44,214.38 94.49,215.09 95.53,215.84 96.57,216.62 97.62,217.44 98.66,218.30 99.70,219.19 100.75,220.12 101.79,221.08 102.83,222.08 103.88,223.11 104.92,224.18 105.96,225.28 107.01,226.41 108.05,227.58 109.09,228.77 110.14,229.99 111.18,231.23 112.22,232.50 113.27,233.79 114.31,235.09 115.35,236.41 116.40,237.74 117.44,239.08 118.48,240.42 119.53,241.76 120.57,243.10 121.61,244.44 122.66,245.77 123.70,247.09 124.74,248.39 125.79,249.67 126.83,250.94 127.87,252.18 128.92,253.40 129.96,254.59 131.00,255.76 132.05,256.89 133.09,257.99 134.13,259.05 135.18,260.09 136.22,261.08 137.26,262.05 138.31,262.97 139.35,263.86 140.39,264.71 141.44,265.53 142.48,266.31 143.52,267.06 144.57,267.77 145.61,268.45 146.65,269.10 147.70,269.71 148.74,270.29 149.78,270.85 150.83,271.37 151.87,271.87 152.91,272.33 153.96,272.78 155.00,273.20" fill="none" stroke="#33a93a" stroke-width="1.3"/>
<polyline points="29.80,203.07 30.85,203.07 31.89,203.07 32.93,203.07 33.98,203.07 35.02,203.07 36.06,203.07 37.11,203.07 38.15,203.08 39.19,203.08 40.24,203.08 41.28,203.08 42.32,203.08 43.37,203.08 44.41,203.08 45.45,203.08 46.50,203.08 47.54,203.08 48.58,203.08 49.63,203.08 50.67,203.09 51.71,203.09 52.76,203.09 53.80,203.09 54.84,203.09 55.89,203.10 56.93,203.10 57.97,203.10 59.02,203.11 60.06,203.11 61.10,203.11 62.15,203.12 63.19,203.12 64.23,203.13 65.28,203.13 66.32,203.14 67.36,203.15 68.41,203.16 69.45,203.17 70.49,203.18 71.54,203.19 72.58,203.20 73.62,203.21 74.67,203.23 75.71,203.25 76.75,203.27 77.80,203.29 78.84,203.31 79.88,203.34 80.93,203.36 81.97,203.39 83.01,203.43 84.06,203.47 85.10,203.51 86.14,203.56 87.19,203.61 88.23,203.66 89.27,203.73 90.32,203.80 91.36,203.87 92.40,203.96 93.44,204.05 94.49,204.16 95.53,204.27 96.57,204.40 97.62,204.54 98.66,204.69 99.70,204.86 100.75,205.05 101.79,205.25 102.83,205.48 103.88,205.73 104.92,206.01 105.96,206.31 107.01,206.64 108.05,207.00 109.09,207.40 110.14,207.84 111.18,208.32 112.22,208.85 113.27,209.42 114.31,210.05 115.35,210.73 116.40,211.47 117.44,212.28 118.48,213.15 119.53,214.09 120.57,215.11 121.61,216.21 122.66,217.39 123.70,218.66 124.74,220.01 125.79,221.45 126.83,222.98 127.87,224.60 128.92,226.30 129.96,228.09 131.00,229.97 132.05,231.92 133.09,233.94 134.13,236.03 135.18,238.18 136.22,240.37 137.26,242.60 138.31,244.86 139.35,247.14 140.39,249.42 141.44,251.69 142.48,253.94 143.52,256.17 144.57,258.35 145.61,260.48 146.65,262.56 147.70,264.57 148.74,266.50 149.78,268.35 150.83,270.12 151.87,271.81 152.91,273.40 153.96,274.91 155.00,276.33" fill="none" stroke="#d42828" stroke-width="1.3"/>
<polyline points="29.80,203.74 30.85,203.74 31.89,203.74 32.93,203.74 33.98,203.74 35.02,203.74 36.06,203.74 37.11,203.74 38.15,203.74 39.19,203.75 40.24,203.75 41.28,203.75 42.32,203.75 43.37,203.75 44.41,203.75 45.45,203.75 46.50,203.75 47.54,203.75 48.58,203.75 49.63,203.76 50.67,203.76 51.71,203.76 52.76,203.76 53.80,203.76 54.84,203.77 55.89,203.77 56.93,203.77 57.97,203.77 59.02,203.78 60.06,203.78 61.10,203.79 62.15,203.79 63.19,203.80 64.23,203.80 65.28,203.81 66.32,203.82 67.36,203.83 68.41,203.84 69.45,203.85 70.49,203.86 71.54,203.87 72.58,203.88 73.62,203.90 74.67,203.92 75.71,203.94 76.75,203.96 77.80,203.98 78.84,204.00 79.88,204.03 80.93,204.06 81.97,204.10 83.01,204.14 84.06,204.18 85.10,204.23 86.14,204.28 87.19,204.34 88.23,204.40 89.27,204.47 90.32,204.55 91.36,204.63 92.40,204.72 93.44,204.83 94.49,204.94 95.53,205.07 96.57,205.21 97.62,205.36 98.66,205.53 99.70,205.72 100.75,205.93 101.79,206.16 102.83,206.41 103.88,206.68 104.92,206.98 105.96,207.32 107.01,207.68 108.05,208.08 109.09,208.52 110.14,209.00 111.18,209.53 112.22,210.10 113.27,210.73 114.31,211.41 115.35,212.15 116.40,212.96 117.44,213.83 118.48,214.78 119.53,215.80 120.57,216.90 121.61,218.08 122.66,219.34 123.70,220.69 124.74,222.13 125.79,223.66 126.83,225.27 127.87,226.97 128.92,228.76 129.96,230.63 131.00,232.57 132.05,234.59 133.09,236.66 134.13,238.80 135.18,240.98 136.22,243.20 137.26,245.45 138.31,247.70 139.35,249.97 140.39,252.22 141.44,254.46 142.48,256.66 143.52,258.82 144.57,260.94 145.61,262.99 146.65,264.97 147.70,266.88 148.74,268.72 149.78,270.46 150.83,272.13 151.87,273.70 152.91,275.19 153.96,276.59 155.00,277.90" fill="none" stroke="#b0683a" stroke-width="1.3"/>
<polyline points="29.80,200.91 30.85,200.91 31.89,200.91 32.93,200.91 33.98,200.91 35.02,200.91 36.06,200.91 37.11,200.91 38.15,200.91 39.19,200.91 40.24,200.92 41.28,200.92 42.32,200.92 43.37,200.92 44.41,200.92 45.45,200.93 46.50,200.93 47.54,200.93 48.58,200.93 49.63,200.94 50.67,200.94 51.71,200.95 52.76,200.95 53.80,200.95 54.84,200.96 55.89,200.96 56.93,200.97 57.97,200.98 59.02,200.98 60.06,200.99 61.10,201.00 62.15,201.01 63.19,201.02 64.23,201.03 65.28,201.04 66.32,201.05 67.36,201.06 68.41,201.08 69.45,201.09 70.49,201.11 71.54,201.13 72.58,201.15 73.62,201.17 74.67,201.19 75.71,201.22 76.75,201.25 77.80,201.28 78.84,201.31 79.88,201.35 80.93,201.39 81.97,201.43 83.01,201.47 84.06,201.52 85.10,201.58 86.14,201.64 87.19,201.70 88.23,201.77 89.27,201.84 90.32,201.92 91.36,202.01 92.40,202.11 93.44,202.21 94.49,202.32 95.53,202.44 96.57,202.58 97.62,202.72 98.66,202.87 99.70,203.04 100.75,203.22 101.79,203.42 102.83,203.63 103.88,203.87 104.92,204.11 105.96,204.38 107.01,204.68 108.05,204.99 109.09,205.33 110.14,205.70 111.18,206.09 112.22,206.52 113.27,206.98 114.31,207.47 115.35,208.00 116.40,208.57 117.44,209.19 118.48,209.84 119.53,210.55 120.57,211.30 121.61,212.11 122.66,212.97 123.70,213.88 124.74,214.86 125.79,215.89 126.83,216.99 127.87,218.16 128.92,219.39 129.96,220.69 131.00,222.06 132.05,223.50 133.09,225.01 134.13,226.59 135.18,228.23 136.22,229.94 137.26,231.72 138.31,233.56 139.35,235.46 140.39,237.41 141.44,239.41 142.48,241.45 143.52,243.54 144.57,245.66 145.61,247.80 146.65,249.96 147.70,252.13 148.74,254.31 149.78,256.48 150.83,258.64 151.87,260.79 152.91,262.91 153.96,264.99 155.00,267.04" fill="none" stroke="#1c1cc4" stroke-width="1.3"/>
<path d="M29.80,201.31L32.05,205.51L27.55,205.51Z" fill="#1f9a30"/>
<path d="M45.45,201.31L47.70,205.51L43.20,205.51Z" fill="#1f9a30"/>
<path d="M61.10,202.14L63.35,206.34L58.85,206.34Z" fill="#1f9a30"/>
<path d="M76.75,202.98L79.00,207.18L74.50,207.18Z" fill="#1f9a30"/>
<path d="M92.40,213.85L94.65,218.05L90.15,218.05Z" fill="#1f9a30"/>
<path d="M108.05,229.90L110.30,234.10L105.80,234.10Z" fill="#1f9a30"/>
<path d="M123.70,241.85L125.95,246.05L121.45,246.05Z" fill="#1f9a30"/>
<path d="M139.35,261.08L141.60,265.28L137.10,265.28Z" fill="#1f9a30"/>
<path d="M155.00,274.04L157.25,278.24L152.75,278.24Z" fill="#1f9a30"/>
<path d="M29.80,198.64V205.33M28.20,198.64h3.2M28.20,205.33h3.2" stroke="#c41c1c" stroke-width="1" fill="none"/>
<path d="M29.80,204.33L32.05,200.13L27.55,200.13Z" fill="#c41c1c"/>
<path d="M45.45,200.31V205.33M43.85,200.31h3.2M43.85,205.33h3.2" stroke="#c41c1c" stroke-width="1" fill="none"/>
<path d="M45.45,205.17L47.70,200.97L43.20,200.97Z" fill="#c41c1c"/>
<path d="M61.10,206.01L63.35,201.81L58.85,201.81Z" fill="#c41c1c"/>
<path d="M76.75,206.01L79.00,201.81L74.50,201.81Z" fill="#c41c1c"/>
<path d="M92.40,206.01L94.65,201.81L90.15,201.81Z" fill="#c41c1c"/>
<path d="M108.05,203.91V207.25M106.45,203.91h3.2M106.45,207.25h3.2" stroke="#c41c1c" stroke-width="1" fill="none"/>
<path d="M108.05,207.93L110.30,203.73L105.80,203.73Z" fill="#c41c1c"/>
<path d="M123.70,215.28V220.29M122.10,215.28h3.2M122.10,220.29h3.2" stroke="#c41c1c" stroke-width="1" fill="none"/>
<path d="M123.70,220.13L125.95,215.93L121.45,215.93Z" fill="#c41c1c"/>
<path d="M139.35,246.29V256.32M137.75,246.29h3.2M137.75,256.32h3.2" stroke="#c41c1c" stroke-width="1" fill="none"/>
<path d="M139.35,253.66L141.60,249.46L137.10,249.46Z" fill="#c41c1c"/>
<path d="M155.00,279.32L157.25,275.12L152.75,275.12Z" fill="#c41c1c"/>
<path d="M29.80,201.98V207.00M28.20,201.98h3.2M28.20,207.00h3.2" stroke="#9a5a30" stroke-width="1" fill="none"/>
<rect x="27.75" y="202.44" width="4.10" height="4.10" fill="#9a5a30"/>
<rect x="43.40" y="203.45" width="4.10" height="4.10" fill="#9a5a30"/>
<rect x="59.05" y="203.78" width="4.10" height="4.10" fill="#9a5a30"/>
<rect x="74.70" y="204.11" width="4.10" height="4.10" fill="#9a5a30"/>
<rect x="90.35" y="201.61" width="4.10" height="4.10" fill="#9a5a30"/>
<rect x="106.00" y="203.53" width="4.10" height="4.10" fill="#9a5a30"/>
<path d="M123.70,215.28V220.29M122.10,215.28h3.2M122.10,220.29h3.2" stroke="#9a5a30" stroke-width="1" fill="none"/>
<rect x="121.65" y="215.73" width="4.10" height="4.10" fill="#9a5a30"/>
<path d="M139.35,247.96V256.32M137.75,247.96h3.2M137.75,256.32h3.2" stroke="#9a5a30" stroke-width="1" fill="none"/>
<rect x="137.30" y="250.09" width="4.10" height="4.10" fill="#9a5a30"/>
<rect x="152.95" y="274.92" width="4.10" height="4.10" fill="#9a5a30"/>
<circle cx="29.80" cy="201.15" r="2.05" fill="#1414ac"/>
<circle cx="45.45" cy="201.15" r="2.05" fill="#1414ac"/>
<circle cx="61.10" cy="199.98" r="2.05" fill="#1414ac"/>
<circle cx="76.75" cy="199.98" r="2.05" fill="#1414ac"/>
<path d="M92.40,195.96V200.98M90.80,195.96h3.2M90.80,200.98h3.2" stroke="#1414ac" stroke-width="1" fill="none"/>
<circle cx="92.40" cy="198.47" r="2.05" fill="#1414ac"/>
<path d="M108.05,199.31V204.16M106.45,199.31h3.2M106.45,204.16h3.2" stroke="#1414ac" stroke-width="1" fill="none"/>
<circle cx="108.05" cy="201.73" r="2.05" fill="#1414ac"/>
<path d="M123.70,206.25V211.10M122.10,206.25h3.2M122.10,211.10h3.2" stroke="#1414ac" stroke-width="1" fill="none"/>
<circle cx="123.70" cy="208.67" r="2.05" fill="#1414ac"/>
<path d="M139.35,236.09V241.94M137.75,236.09h3.2M137.75,241.94h3.2" stroke="#1414ac" stroke-width="1" fill="none"/>
<circle cx="139.35" cy="239.02" r="2.05" fill="#1414ac"/>
<circle cx="155.00" cy="267.78" r="2.05" fill="#1414ac"/>
<line x1="23.80" y1="186.10" x2="23.80" y2="291.10" stroke="#1a1a1a" stroke-width="1.1"/>
<line x1="23.30" y1="290.60" x2="155.00" y2="290.60" stroke="#1a1a1a" stroke-width="1.1"/>
<line x1="20.80" y1="290.60" x2="23.80" y2="290.60" stroke="#1a1a1a" stroke-width="1"/>
<text transform="translate(20.70,293.00) scale(1,1.08)" text-anchor="end" class="tk">0</text>
<line x1="20.80" y1="269.70" x2="23.80" y2="269.70" stroke="#1a1a1a" stroke-width="1"/>
<text transform="translate(20.70,272.10) scale(1,1.08)" text-anchor="end" class="tk">25</text>
<line x1="20.80" y1="248.80" x2="23.80" y2="248.80" stroke="#1a1a1a" stroke-width="1"/>
<text transform="translate(20.70,251.20) scale(1,1.08)" text-anchor="end" class="tk">50</text>
<line x1="20.80" y1="227.90" x2="23.80" y2="227.90" stroke="#1a1a1a" stroke-width="1"/>
<text transform="translate(20.70,230.30) scale(1,1.08)" text-anchor="end" class="tk">75</text>
<line x1="20.80" y1="207.00" x2="23.80" y2="207.00" stroke="#1a1a1a" stroke-width="1"/>
<text transform="translate(20.70,209.40) scale(1,1.08)" text-anchor="end" class="tk">100</text>
<line x1="20.80" y1="186.10" x2="23.80" y2="186.10" stroke="#1a1a1a" stroke-width="1"/>
<text transform="translate(20.70,188.50) scale(1,1.08)" text-anchor="end" class="tk">125</text>
<line x1="23.80" y1="290.60" x2="23.80" y2="293.20" stroke="#1a1a1a" stroke-width="1"/>
<text transform="translate(23.80,301.50) scale(1,1.08)" text-anchor="middle" class="tk">1</text>
<line x1="33.67" y1="290.60" x2="33.67" y2="292.60" stroke="#1a1a1a" stroke-width="0.9"/>
<line x1="39.45" y1="290.60" x2="39.45" y2="292.60" stroke="#1a1a1a" stroke-width="0.9"/>
<line x1="43.55" y1="290.60" x2="43.55" y2="292.60" stroke="#1a1a1a" stroke-width="0.9"/>
<line x1="46.73" y1="290.60" x2="46.73" y2="292.60" stroke="#1a1a1a" stroke-width="0.9"/>
<line x1="49.32" y1="290.60" x2="49.32" y2="292.60" stroke="#1a1a1a" stroke-width="0.9"/>
<line x1="51.52" y1="290.60" x2="51.52" y2="292.60" stroke="#1a1a1a" stroke-width="0.9"/>
<line x1="53.42" y1="290.60" x2="53.42" y2="292.60" stroke="#1a1a1a" stroke-width="0.9"/>
<line x1="55.10" y1="290.60" x2="55.10" y2="292.60" stroke="#1a1a1a" stroke-width="0.9"/>
<line x1="56.60" y1="290.60" x2="56.60" y2="293.20" stroke="#1a1a1a" stroke-width="1"/>
<text transform="translate(56.60,301.50) scale(1,1.08)" text-anchor="middle" class="tk">10</text>
<line x1="66.47" y1="290.60" x2="66.47" y2="292.60" stroke="#1a1a1a" stroke-width="0.9"/>
<line x1="72.25" y1="290.60" x2="72.25" y2="292.60" stroke="#1a1a1a" stroke-width="0.9"/>
<line x1="76.35" y1="290.60" x2="76.35" y2="292.60" stroke="#1a1a1a" stroke-width="0.9"/>
<line x1="79.53" y1="290.60" x2="79.53" y2="292.60" stroke="#1a1a1a" stroke-width="0.9"/>
<line x1="82.12" y1="290.60" x2="82.12" y2="292.60" stroke="#1a1a1a" stroke-width="0.9"/>
<line x1="84.32" y1="290.60" x2="84.32" y2="292.60" stroke="#1a1a1a" stroke-width="0.9"/>
<line x1="86.22" y1="290.60" x2="86.22" y2="292.60" stroke="#1a1a1a" stroke-width="0.9"/>
<line x1="87.90" y1="290.60" x2="87.90" y2="292.60" stroke="#1a1a1a" stroke-width="0.9"/>
<line x1="89.40" y1="290.60" x2="89.40" y2="293.20" stroke="#1a1a1a" stroke-width="1"/>
<text transform="translate(89.40,301.50) scale(1,1.08)" text-anchor="middle" class="tk">100</text>
<line x1="99.27" y1="290.60" x2="99.27" y2="292.60" stroke="#1a1a1a" stroke-width="0.9"/>
<line x1="105.05" y1="290.60" x2="105.05" y2="292.60" stroke="#1a1a1a" stroke-width="0.9"/>
<line x1="109.15" y1="290.60" x2="109.15" y2="292.60" stroke="#1a1a1a" stroke-width="0.9"/>
<line x1="112.33" y1="290.60" x2="112.33" y2="292.60" stroke="#1a1a1a" stroke-width="0.9"/>
<line x1="114.92" y1="290.60" x2="114.92" y2="292.60" stroke="#1a1a1a" stroke-width="0.9"/>
<line x1="117.12" y1="290.60" x2="117.12" y2="292.60" stroke="#1a1a1a" stroke-width="0.9"/>
<line x1="119.02" y1="290.60" x2="119.02" y2="292.60" stroke="#1a1a1a" stroke-width="0.9"/>
<line x1="120.70" y1="290.60" x2="120.70" y2="292.60" stroke="#1a1a1a" stroke-width="0.9"/>
<line x1="122.20" y1="290.60" x2="122.20" y2="293.20" stroke="#1a1a1a" stroke-width="1"/>
<text transform="translate(122.20,301.50) scale(1,1.08)" text-anchor="middle" class="tk">1,000</text>
<line x1="132.07" y1="290.60" x2="132.07" y2="292.60" stroke="#1a1a1a" stroke-width="0.9"/>
<line x1="137.85" y1="290.60" x2="137.85" y2="292.60" stroke="#1a1a1a" stroke-width="0.9"/>
<line x1="141.95" y1="290.60" x2="141.95" y2="292.60" stroke="#1a1a1a" stroke-width="0.9"/>
<line x1="145.13" y1="290.60" x2="145.13" y2="292.60" stroke="#1a1a1a" stroke-width="0.9"/>
<line x1="147.72" y1="290.60" x2="147.72" y2="292.60" stroke="#1a1a1a" stroke-width="0.9"/>
<line x1="149.92" y1="290.60" x2="149.92" y2="292.60" stroke="#1a1a1a" stroke-width="0.9"/>
<line x1="151.82" y1="290.60" x2="151.82" y2="292.60" stroke="#1a1a1a" stroke-width="0.9"/>
<line x1="153.50" y1="290.60" x2="153.50" y2="292.60" stroke="#1a1a1a" stroke-width="0.9"/>
<line x1="155.00" y1="290.60" x2="155.00" y2="293.20" stroke="#1a1a1a" stroke-width="1"/>
<text transform="translate(155.00,301.50) scale(1,1.08)" text-anchor="middle" class="tk">10,000</text>
<text transform="translate(96.05,311.00) scale(1,1.12)" text-anchor="middle" class="at">LXH254 (nmol/L)</text>
<text transform="translate(6.30,235.80) rotate(-90) scale(1,1.12)" text-anchor="middle" class="at" style="font-size:7.3px">% Control growth</text>
<text transform="translate(48.80,175.50) scale(1,1.05)" class="ti"><tspan>COR-L23 (KRAS</tspan><tspan class="sup" dy="-3.2" dx="0.8">G12V</tspan><tspan dy="3.2">)</tspan></text>
<line x1="202.40" y1="248.80" x2="333.40" y2="248.80" stroke="#333" stroke-width="1.1" stroke-dasharray="1.2 1.42"/>
<polyline points="206.44,203.87 207.49,203.88 208.54,203.89 209.59,203.90 210.64,203.91 211.69,203.93 212.74,203.94 213.79,203.95 214.84,203.97 215.89,203.98 216.94,204.00 217.99,204.02 219.04,204.04 220.09,204.06 221.14,204.08 222.18,204.11 223.23,204.13 224.28,204.16 225.33,204.19 226.38,204.22 227.43,204.25 228.48,204.29 229.53,204.32 230.58,204.36 231.63,204.41 232.68,204.45 233.73,204.50 234.78,204.56 235.83,204.61 236.88,204.67 237.93,204.74 238.98,204.80 240.03,204.88 241.08,204.96 242.13,205.04 243.18,205.13 244.23,205.22 245.28,205.32 246.33,205.43 247.38,205.55 248.43,205.67 249.48,205.80 250.53,205.94 251.58,206.09 252.63,206.25 253.67,206.42 254.72,206.60 255.77,206.79 256.82,207.00 257.87,207.22 258.92,207.45 259.97,207.70 261.02,207.96 262.07,208.24 263.12,208.54 264.17,208.85 265.22,209.19 266.27,209.54 267.32,209.92 268.37,210.32 269.42,210.74 270.47,211.19 271.52,211.66 272.57,212.17 273.62,212.70 274.67,213.26 275.72,213.85 276.77,214.47 277.82,215.12 278.87,215.81 279.92,216.54 280.97,217.30 282.02,218.10 283.07,218.94 284.12,219.81 285.16,220.73 286.21,221.68 287.26,222.68 288.31,223.71 289.36,224.79 290.41,225.91 291.46,227.07 292.51,228.26 293.56,229.50 294.61,230.77 295.66,232.09 296.71,233.43 297.76,234.81 298.81,236.23 299.86,237.67 300.91,239.14 301.96,240.63 303.01,242.14 304.06,243.67 305.11,245.22 306.16,246.78 307.21,248.35 308.26,249.92 309.31,251.50 310.36,253.07 311.41,254.64 312.46,256.20 313.51,257.74 314.56,259.27 315.61,260.79 316.65,262.28 317.70,263.74 318.75,265.18 319.80,266.58 320.85,267.96 321.90,269.30 322.95,270.61 324.00,271.88 325.05,273.11 326.10,274.30 327.15,275.45 328.20,276.56 329.25,277.64 330.30,278.67 331.35,279.66 332.40,280.60" fill="none" stroke="#967028" stroke-width="1.3"/>
<polyline points="206.44,202.63 207.49,202.65 208.54,202.66 209.59,202.67 210.64,202.69 211.69,202.70 212.74,202.72 213.79,202.74 214.84,202.76 215.89,202.78 216.94,202.81 217.99,202.83 219.04,202.86 220.09,202.89 221.14,202.92 222.18,202.96 223.23,203.00 224.28,203.04 225.33,203.08 226.38,203.13 227.43,203.18 228.48,203.24 229.53,203.30 230.58,203.36 231.63,203.43 232.68,203.51 233.73,203.59 234.78,203.68 235.83,203.77 236.88,203.87 237.93,203.98 238.98,204.10 240.03,204.23 241.08,204.37 242.13,204.51 243.18,204.67 244.23,204.84 245.28,205.03 246.33,205.23 247.38,205.44 248.43,205.67 249.48,205.92 250.53,206.18 251.58,206.47 252.63,206.77 253.67,207.10 254.72,207.45 255.77,207.82 256.82,208.22 257.87,208.65 258.92,209.11 259.97,209.60 261.02,210.13 262.07,210.69 263.12,211.28 264.17,211.91 265.22,212.58 266.27,213.30 267.32,214.05 268.37,214.85 269.42,215.70 270.47,216.59 271.52,217.53 272.57,218.52 273.62,219.56 274.67,220.65 275.72,221.79 276.77,222.98 277.82,224.23 278.87,225.52 279.92,226.85 280.97,228.24 282.02,229.67 283.07,231.14 284.12,232.65 285.16,234.20 286.21,235.79 287.26,237.40 288.31,239.03 289.36,240.69 290.41,242.37 291.46,244.05 292.51,245.74 293.56,247.44 294.61,249.13 295.66,250.81 296.71,252.48 297.76,254.13 298.81,255.75 299.86,257.35 300.91,258.92 301.96,260.45 303.01,261.95 304.06,263.40 305.11,264.81 306.16,266.17 307.21,267.49 308.26,268.76 309.31,269.98 310.36,271.15 311.41,272.26 312.46,273.33 313.51,274.35 314.56,275.32 315.61,276.23 316.65,277.11 317.70,277.93 318.75,278.71 319.80,279.45 320.85,280.14 321.90,280.80 322.95,281.41 324.00,281.99 325.05,282.53 326.10,283.04 327.15,283.51 328.20,283.96 329.25,284.38 330.30,284.77 331.35,285.13 332.40,285.47" fill="none" stroke="#33a93a" stroke-width="1.3"/>
<polyline points="206.44,202.87 207.49,202.88 208.54,202.88 209.59,202.89 210.64,202.90 211.69,202.91 212.74,202.92 213.79,202.93 214.84,202.94 215.89,202.95 216.94,202.97 217.99,202.98 219.04,203.00 220.09,203.01 221.14,203.03 222.18,203.05 223.23,203.07 224.28,203.09 225.33,203.11 226.38,203.13 227.43,203.16 228.48,203.18 229.53,203.21 230.58,203.24 231.63,203.28 232.68,203.31 233.73,203.35 234.78,203.39 235.83,203.43 236.88,203.48 237.93,203.52 238.98,203.58 240.03,203.63 241.08,203.69 242.13,203.75 243.18,203.82 244.23,203.89 245.28,203.97 246.33,204.05 247.38,204.13 248.43,204.23 249.48,204.32 250.53,204.43 251.58,204.54 252.63,204.66 253.67,204.79 254.72,204.92 255.77,205.06 256.82,205.22 257.87,205.38 258.92,205.55 259.97,205.74 261.02,205.93 262.07,206.14 263.12,206.36 264.17,206.60 265.22,206.85 266.27,207.12 267.32,207.40 268.37,207.70 269.42,208.02 270.47,208.35 271.52,208.71 272.57,209.09 273.62,209.49 274.67,209.91 275.72,210.36 276.77,210.84 277.82,211.34 278.87,211.87 279.92,212.42 280.97,213.01 282.02,213.63 283.07,214.28 284.12,214.97 285.16,215.69 286.21,216.44 287.26,217.23 288.31,218.06 289.36,218.93 290.41,219.84 291.46,220.78 292.51,221.77 293.56,222.79 294.61,223.85 295.66,224.96 296.71,226.10 297.76,227.29 298.81,228.51 299.86,229.77 300.91,231.07 301.96,232.40 303.01,233.77 304.06,235.17 305.11,236.60 306.16,238.05 307.21,239.54 308.26,241.04 309.31,242.57 310.36,244.11 311.41,245.67 312.46,247.24 313.51,248.81 314.56,250.39 315.61,251.97 316.65,253.55 317.70,255.12 318.75,256.68 319.80,258.23 320.85,259.77 321.90,261.28 322.95,262.78 324.00,264.24 325.05,265.69 326.10,267.10 327.15,268.48 328.20,269.83 329.25,271.14 330.30,272.41 331.35,273.65 332.40,274.85" fill="none" stroke="#1c1cc4" stroke-width="1.3"/>
<polyline points="206.44,201.58 207.49,201.59 208.54,201.59 209.59,201.59 210.64,201.59 211.69,201.59 212.74,201.59 213.79,201.60 214.84,201.60 215.89,201.60 216.94,201.60 217.99,201.61 219.04,201.61 220.09,201.61 221.14,201.62 222.18,201.62 223.23,201.63 224.28,201.63 225.33,201.63 226.38,201.64 227.43,201.65 228.48,201.65 229.53,201.66 230.58,201.67 231.63,201.67 232.68,201.68 233.73,201.69 234.78,201.70 235.83,201.71 236.88,201.72 237.93,201.74 238.98,201.75 240.03,201.76 241.08,201.78 242.13,201.80 243.18,201.81 244.23,201.83 245.28,201.85 246.33,201.88 247.38,201.90 248.43,201.93 249.48,201.96 250.53,201.99 251.58,202.02 252.63,202.05 253.67,202.09 254.72,202.13 255.77,202.18 256.82,202.22 257.87,202.28 258.92,202.33 259.97,202.39 261.02,202.46 262.07,202.52 263.12,202.60 264.17,202.68 265.22,202.77 266.27,202.86 267.32,202.96 268.37,203.07 269.42,203.18 270.47,203.31 271.52,203.44 272.57,203.59 273.62,203.74 274.67,203.91 275.72,204.09 276.77,204.29 277.82,204.50 278.87,204.72 279.92,204.96 280.97,205.22 282.02,205.50 283.07,205.80 284.12,206.12 285.16,206.46 286.21,206.83 287.26,207.23 288.31,207.65 289.36,208.11 290.41,208.59 291.46,209.11 292.51,209.67 293.56,210.26 294.61,210.90 295.66,211.58 296.71,212.30 297.76,213.07 298.81,213.90 299.86,214.77 300.91,215.70 301.96,216.69 303.01,217.74 304.06,218.85 305.11,220.02 306.16,221.26 307.21,222.57 308.26,223.95 309.31,225.41 310.36,226.93 311.41,228.54 312.46,230.21 313.51,231.97 314.56,233.80 315.61,235.71 316.65,237.69 317.70,239.74 318.75,241.87 319.80,244.06 320.85,246.32 321.90,248.64 322.95,251.02 324.00,253.45 325.05,255.93 326.10,258.45 327.15,261.00 328.20,263.58 329.25,266.18 330.30,268.80 331.35,271.43 332.40,274.05" fill="none" stroke="#da5c5c" stroke-width="1.3"/>
<circle cx="206.44" cy="203.66" r="2.05" fill="#1414ac"/>
<circle cx="222.18" cy="204.49" r="2.05" fill="#1414ac"/>
<circle cx="237.93" cy="203.66" r="2.05" fill="#1414ac"/>
<circle cx="253.67" cy="204.41" r="2.05" fill="#1414ac"/>
<circle cx="269.42" cy="207.42" r="2.05" fill="#1414ac"/>
<circle cx="285.16" cy="215.61" r="2.05" fill="#1414ac"/>
<path d="M300.91,227.48V234.17M299.31,227.48h3.2M299.31,234.17h3.2" stroke="#1414ac" stroke-width="1" fill="none"/>
<circle cx="300.91" cy="230.83" r="2.05" fill="#1414ac"/>
<circle cx="316.65" cy="260.34" r="2.05" fill="#1414ac"/>
<circle cx="332.40" cy="276.89" r="2.05" fill="#1414ac"/>
<path d="M206.44,206.58V209.93M204.84,206.58h3.2M204.84,209.93h3.2" stroke="#1f9a30" stroke-width="1" fill="none"/>
<path d="M206.44,205.90L208.69,210.10L204.19,210.10Z" fill="#1f9a30"/>
<path d="M222.18,202.14L224.43,206.34L219.93,206.34Z" fill="#1f9a30"/>
<path d="M237.93,197.80V207.84M236.33,197.80h3.2M236.33,207.84h3.2" stroke="#1f9a30" stroke-width="1" fill="none"/>
<path d="M237.93,200.47L240.18,204.67L235.68,204.67Z" fill="#1f9a30"/>
<path d="M253.67,203.81L255.92,208.01L251.42,208.01Z" fill="#1f9a30"/>
<path d="M269.42,213.85L271.67,218.05L267.17,218.05Z" fill="#1f9a30"/>
<path d="M285.16,232.15L287.41,236.35L282.91,236.35Z" fill="#1f9a30"/>
<path d="M300.91,263.09L303.16,267.29L298.66,267.29Z" fill="#1f9a30"/>
<path d="M316.65,281.23L318.90,285.43L314.40,285.43Z" fill="#1f9a30"/>
<path d="M332.40,286.16L334.65,290.36L330.15,290.36Z" fill="#1f9a30"/>
<path d="M206.44,200.31V207.00M204.84,200.31h3.2M204.84,207.00h3.2" stroke="#d84c5c" stroke-width="1" fill="none"/>
<path d="M206.44,206.01L208.69,201.81L204.19,201.81Z" fill="#d84c5c"/>
<path d="M222.18,206.84L224.43,202.64L219.93,202.64Z" fill="#d84c5c"/>
<path d="M237.93,205.59L240.18,201.39L235.68,201.39Z" fill="#d84c5c"/>
<path d="M253.67,198.05V202.23M252.07,198.05h3.2M252.07,202.23h3.2" stroke="#d84c5c" stroke-width="1" fill="none"/>
<path d="M253.67,202.49L255.92,198.29L251.42,198.29Z" fill="#d84c5c"/>
<path d="M269.42,204.08L271.67,199.88L267.17,199.88Z" fill="#d84c5c"/>
<path d="M285.16,197.80V204.49M283.56,197.80h3.2M283.56,204.49h3.2" stroke="#d84c5c" stroke-width="1" fill="none"/>
<path d="M285.16,203.50L287.41,199.30L282.91,199.30Z" fill="#d84c5c"/>
<path d="M300.91,208.34V215.03M299.31,208.34h3.2M299.31,215.03h3.2" stroke="#d84c5c" stroke-width="1" fill="none"/>
<path d="M300.91,214.03L303.16,209.83L298.66,209.83Z" fill="#d84c5c"/>
<path d="M316.65,254.33L318.90,250.13L314.40,250.13Z" fill="#d84c5c"/>
<path d="M332.40,278.65L334.65,274.45L330.15,274.45Z" fill="#d84c5c"/>
<path d="M206.44,202.82V207.84M204.84,202.82h3.2M204.84,207.84h3.2" stroke="#7a5c1c" stroke-width="1" fill="none"/>
<rect x="204.39" y="203.28" width="4.10" height="4.10" fill="#7a5c1c"/>
<path d="M222.18,203.15V206.50M220.58,203.15h3.2M220.58,206.50h3.2" stroke="#7a5c1c" stroke-width="1" fill="none"/>
<rect x="220.13" y="202.78" width="4.10" height="4.10" fill="#7a5c1c"/>
<path d="M237.93,201.06V206.08M236.33,201.06h3.2M236.33,206.08h3.2" stroke="#7a5c1c" stroke-width="1" fill="none"/>
<rect x="235.88" y="201.52" width="4.10" height="4.10" fill="#7a5c1c"/>
<path d="M253.67,207.08V212.10M252.07,207.08h3.2M252.07,212.10h3.2" stroke="#7a5c1c" stroke-width="1" fill="none"/>
<rect x="251.62" y="207.54" width="4.10" height="4.10" fill="#7a5c1c"/>
<path d="M269.42,212.18V215.53M267.82,212.18h3.2M267.82,215.53h3.2" stroke="#7a5c1c" stroke-width="1" fill="none"/>
<rect x="267.37" y="211.81" width="4.10" height="4.10" fill="#7a5c1c"/>
<rect x="283.11" y="218.74" width="4.10" height="4.10" fill="#7a5c1c"/>
<rect x="298.86" y="234.88" width="4.10" height="4.10" fill="#7a5c1c"/>
<rect x="314.60" y="265.73" width="4.10" height="4.10" fill="#7a5c1c"/>
<rect x="330.35" y="279.44" width="4.10" height="4.10" fill="#7a5c1c"/>
<line x1="200.40" y1="186.10" x2="200.40" y2="291.10" stroke="#1a1a1a" stroke-width="1.1"/>
<line x1="199.90" y1="290.60" x2="332.40" y2="290.60" stroke="#1a1a1a" stroke-width="1.1"/>
<line x1="197.40" y1="290.60" x2="200.40" y2="290.60" stroke="#1a1a1a" stroke-width="1"/>
<text transform="translate(197.30,293.00) scale(1,1.08)" text-anchor="end" class="tk">0</text>
<line x1="197.40" y1="269.70" x2="200.40" y2="269.70" stroke="#1a1a1a" stroke-width="1"/>
<text transform="translate(197.30,272.10) scale(1,1.08)" text-anchor="end" class="tk">25</text>
<line x1="197.40" y1="248.80" x2="200.40" y2="248.80" stroke="#1a1a1a" stroke-width="1"/>
<text transform="translate(197.30,251.20) scale(1,1.08)" text-anchor="end" class="tk">50</text>
<line x1="197.40" y1="227.90" x2="200.40" y2="227.90" stroke="#1a1a1a" stroke-width="1"/>
<text transform="translate(197.30,230.30) scale(1,1.08)" text-anchor="end" class="tk">75</text>
<line x1="197.40" y1="207.00" x2="200.40" y2="207.00" stroke="#1a1a1a" stroke-width="1"/>
<text transform="translate(197.30,209.40) scale(1,1.08)" text-anchor="end" class="tk">100</text>
<line x1="197.40" y1="186.10" x2="200.40" y2="186.10" stroke="#1a1a1a" stroke-width="1"/>
<text transform="translate(197.30,188.50) scale(1,1.08)" text-anchor="end" class="tk">125</text>
<line x1="200.40" y1="290.60" x2="200.40" y2="293.20" stroke="#1a1a1a" stroke-width="1"/>
<text transform="translate(200.40,301.50) scale(1,1.08)" text-anchor="middle" class="tk">1</text>
<line x1="210.33" y1="290.60" x2="210.33" y2="292.60" stroke="#1a1a1a" stroke-width="0.9"/>
<line x1="216.15" y1="290.60" x2="216.15" y2="292.60" stroke="#1a1a1a" stroke-width="0.9"/>
<line x1="220.27" y1="290.60" x2="220.27" y2="292.60" stroke="#1a1a1a" stroke-width="0.9"/>
<line x1="223.47" y1="290.60" x2="223.47" y2="292.60" stroke="#1a1a1a" stroke-width="0.9"/>
<line x1="226.08" y1="290.60" x2="226.08" y2="292.60" stroke="#1a1a1a" stroke-width="0.9"/>
<line x1="228.29" y1="290.60" x2="228.29" y2="292.60" stroke="#1a1a1a" stroke-width="0.9"/>
<line x1="230.20" y1="290.60" x2="230.20" y2="292.60" stroke="#1a1a1a" stroke-width="0.9"/>
<line x1="231.89" y1="290.60" x2="231.89" y2="292.60" stroke="#1a1a1a" stroke-width="0.9"/>
<line x1="233.40" y1="290.60" x2="233.40" y2="293.20" stroke="#1a1a1a" stroke-width="1"/>
<text transform="translate(233.40,301.50) scale(1,1.08)" text-anchor="middle" class="tk">10</text>
<line x1="243.33" y1="290.60" x2="243.33" y2="292.60" stroke="#1a1a1a" stroke-width="0.9"/>
<line x1="249.15" y1="290.60" x2="249.15" y2="292.60" stroke="#1a1a1a" stroke-width="0.9"/>
<line x1="253.27" y1="290.60" x2="253.27" y2="292.60" stroke="#1a1a1a" stroke-width="0.9"/>
<line x1="256.47" y1="290.60" x2="256.47" y2="292.60" stroke="#1a1a1a" stroke-width="0.9"/>
<line x1="259.08" y1="290.60" x2="259.08" y2="292.60" stroke="#1a1a1a" stroke-width="0.9"/>
<line x1="261.29" y1="290.60" x2="261.29" y2="292.60" stroke="#1a1a1a" stroke-width="0.9"/>
<line x1="263.20" y1="290.60" x2="263.20" y2="292.60" stroke="#1a1a1a" stroke-width="0.9"/>
<line x1="264.89" y1="290.60" x2="264.89" y2="292.60" stroke="#1a1a1a" stroke-width="0.9"/>
<line x1="266.40" y1="290.60" x2="266.40" y2="293.20" stroke="#1a1a1a" stroke-width="1"/>
<text transform="translate(266.40,301.50) scale(1,1.08)" text-anchor="middle" class="tk">100</text>
<line x1="276.33" y1="290.60" x2="276.33" y2="292.60" stroke="#1a1a1a" stroke-width="0.9"/>
<line x1="282.15" y1="290.60" x2="282.15" y2="292.60" stroke="#1a1a1a" stroke-width="0.9"/>
<line x1="286.27" y1="290.60" x2="286.27" y2="292.60" stroke="#1a1a1a" stroke-width="0.9"/>
<line x1="289.47" y1="290.60" x2="289.47" y2="292.60" stroke="#1a1a1a" stroke-width="0.9"/>
<line x1="292.08" y1="290.60" x2="292.08" y2="292.60" stroke="#1a1a1a" stroke-width="0.9"/>
<line x1="294.29" y1="290.60" x2="294.29" y2="292.60" stroke="#1a1a1a" stroke-width="0.9"/>
<line x1="296.20" y1="290.60" x2="296.20" y2="292.60" stroke="#1a1a1a" stroke-width="0.9"/>
<line x1="297.89" y1="290.60" x2="297.89" y2="292.60" stroke="#1a1a1a" stroke-width="0.9"/>
<line x1="299.40" y1="290.60" x2="299.40" y2="293.20" stroke="#1a1a1a" stroke-width="1"/>
<text transform="translate(299.40,301.50) scale(1,1.08)" text-anchor="middle" class="tk">1,000</text>
<line x1="309.33" y1="290.60" x2="309.33" y2="292.60" stroke="#1a1a1a" stroke-width="0.9"/>
<line x1="315.15" y1="290.60" x2="315.15" y2="292.60" stroke="#1a1a1a" stroke-width="0.9"/>
<line x1="319.27" y1="290.60" x2="319.27" y2="292.60" stroke="#1a1a1a" stroke-width="0.9"/>
<line x1="322.47" y1="290.60" x2="322.47" y2="292.60" stroke="#1a1a1a" stroke-width="0.9"/>
<line x1="325.08" y1="290.60" x2="325.08" y2="292.60" stroke="#1a1a1a" stroke-width="0.9"/>
<line x1="327.29" y1="290.60" x2="327.29" y2="292.60" stroke="#1a1a1a" stroke-width="0.9"/>
<line x1="329.20" y1="290.60" x2="329.20" y2="292.60" stroke="#1a1a1a" stroke-width="0.9"/>
<line x1="330.89" y1="290.60" x2="330.89" y2="292.60" stroke="#1a1a1a" stroke-width="0.9"/>
<line x1="332.40" y1="290.60" x2="332.40" y2="293.20" stroke="#1a1a1a" stroke-width="1"/>
<text transform="translate(332.40,301.50) scale(1,1.08)" text-anchor="middle" class="tk">10,000</text>
<text transform="translate(273.30,311.00) scale(1,1.12)" text-anchor="middle" class="at">LXH254 (nmol/L)</text>
<text transform="translate(182.90,235.80) rotate(-90) scale(1,1.12)" text-anchor="middle" class="at" style="font-size:7.3px">% Control growth</text>
<text transform="translate(226.90,175.50) scale(1,1.05)" class="ti"><tspan>HCT 116 (KRAS</tspan><tspan class="sup" dy="-3.2" dx="0.8">G13D</tspan><tspan dy="3.2">)</tspan></text>
<line x1="380.60" y1="248.80" x2="510.80" y2="248.80" stroke="#333" stroke-width="1.1" stroke-dasharray="1.2 1.42"/>
<polyline points="384.60,204.01 385.65,204.01 386.69,204.01 387.73,204.02 388.78,204.02 389.82,204.02 390.86,204.02 391.91,204.02 392.95,204.03 393.99,204.03 395.04,204.03 396.08,204.04 397.12,204.04 398.17,204.05 399.21,204.05 400.25,204.06 401.30,204.06 402.34,204.07 403.38,204.07 404.43,204.08 405.47,204.09 406.51,204.10 407.56,204.10 408.60,204.11 409.64,204.12 410.69,204.13 411.73,204.15 412.77,204.16 413.82,204.17 414.86,204.19 415.90,204.21 416.95,204.22 417.99,204.24 419.03,204.26 420.08,204.29 421.12,204.31 422.16,204.34 423.21,204.37 424.25,204.40 425.29,204.43 426.34,204.47 427.38,204.51 428.42,204.55 429.47,204.59 430.51,204.64 431.55,204.70 432.60,204.76 433.64,204.82 434.68,204.89 435.73,204.96 436.77,205.04 437.81,205.13 438.86,205.22 439.90,205.32 440.94,205.43 441.99,205.55 443.03,205.68 444.07,205.81 445.12,205.96 446.16,206.12 447.20,206.30 448.24,206.48 449.29,206.68 450.33,206.90 451.37,207.14 452.42,207.39 453.46,207.66 454.50,207.95 455.55,208.27 456.59,208.61 457.63,208.98 458.68,209.37 459.72,209.79 460.76,210.25 461.81,210.73 462.85,211.26 463.89,211.82 464.94,212.42 465.98,213.06 467.02,213.74 468.07,214.48 469.11,215.26 470.15,216.09 471.20,216.97 472.24,217.92 473.28,218.91 474.33,219.97 475.37,221.09 476.41,222.28 477.46,223.52 478.50,224.84 479.54,226.22 480.59,227.67 481.63,229.18 482.67,230.76 483.72,232.41 484.76,234.13 485.80,235.90 486.85,237.74 487.89,239.63 488.93,241.58 489.98,243.58 491.02,245.62 492.06,247.71 493.11,249.83 494.15,251.97 495.19,254.14 496.24,256.33 497.28,258.52 498.32,260.72 499.37,262.91 500.41,265.09 501.45,267.25 502.50,269.39 503.54,271.49 504.58,273.56 505.63,275.58 506.67,277.56 507.71,279.48 508.76,281.35 509.80,283.16" fill="none" stroke="#967028" stroke-width="1.3"/>
<polyline points="384.60,199.40 385.65,199.42 386.69,199.44 387.73,199.45 388.78,199.47 389.82,199.49 390.86,199.51 391.91,199.54 392.95,199.56 393.99,199.59 395.04,199.62 396.08,199.66 397.12,199.69 398.17,199.73 399.21,199.77 400.25,199.82 401.30,199.87 402.34,199.92 403.38,199.98 404.43,200.04 405.47,200.10 406.51,200.18 407.56,200.25 408.60,200.34 409.64,200.43 410.69,200.53 411.73,200.64 412.77,200.75 413.82,200.88 414.86,201.01 415.90,201.16 416.95,201.31 417.99,201.48 419.03,201.66 420.08,201.86 421.12,202.07 422.16,202.30 423.21,202.55 424.25,202.81 425.29,203.10 426.34,203.40 427.38,203.73 428.42,204.09 429.47,204.47 430.51,204.88 431.55,205.32 432.60,205.79 433.64,206.29 434.68,206.83 435.73,207.40 436.77,208.01 437.81,208.67 438.86,209.36 439.90,210.10 440.94,210.89 441.99,211.73 443.03,212.61 444.07,213.55 445.12,214.54 446.16,215.58 447.20,216.67 448.24,217.82 449.29,219.03 450.33,220.29 451.37,221.61 452.42,222.98 453.46,224.40 454.50,225.87 455.55,227.39 456.59,228.96 457.63,230.57 458.68,232.23 459.72,233.91 460.76,235.63 461.81,237.38 462.85,239.14 463.89,240.92 464.94,242.72 465.98,244.52 467.02,246.31 468.07,248.10 469.11,249.88 470.15,251.64 471.20,253.38 472.24,255.09 473.28,256.77 474.33,258.41 475.37,260.01 476.41,261.57 477.46,263.08 478.50,264.54 479.54,265.95 480.59,267.31 481.63,268.61 482.67,269.86 483.72,271.05 484.76,272.18 485.80,273.27 486.85,274.29 487.89,275.27 488.93,276.19 489.98,277.06 491.02,277.88 492.06,278.66 493.11,279.39 494.15,280.07 495.19,280.72 496.24,281.32 497.28,281.89 498.32,282.41 499.37,282.91 500.41,283.37 501.45,283.80 502.50,284.20 503.54,284.57 504.58,284.92 505.63,285.25 506.67,285.55 507.71,285.83 508.76,286.09 509.80,286.33" fill="none" stroke="#33a93a" stroke-width="1.3"/>
<polyline points="384.60,204.33 385.65,204.33 386.69,204.33 387.73,204.33 388.78,204.33 389.82,204.33 390.86,204.33 391.91,204.34 392.95,204.34 393.99,204.34 395.04,204.34 396.08,204.34 397.12,204.34 398.17,204.34 399.21,204.35 400.25,204.35 401.30,204.35 402.34,204.35 403.38,204.35 404.43,204.36 405.47,204.36 406.51,204.36 407.56,204.37 408.60,204.37 409.64,204.38 410.69,204.38 411.73,204.39 412.77,204.39 413.82,204.40 414.86,204.41 415.90,204.41 416.95,204.42 417.99,204.43 419.03,204.44 420.08,204.45 421.12,204.47 422.16,204.48 423.21,204.49 424.25,204.51 425.29,204.53 426.34,204.55 427.38,204.57 428.42,204.59 429.47,204.62 430.51,204.64 431.55,204.67 432.60,204.71 433.64,204.74 434.68,204.78 435.73,204.83 436.77,204.88 437.81,204.93 438.86,204.99 439.90,205.05 440.94,205.12 441.99,205.19 443.03,205.27 444.07,205.36 445.12,205.46 446.16,205.57 447.20,205.69 448.24,205.81 449.29,205.95 450.33,206.11 451.37,206.27 452.42,206.45 453.46,206.65 454.50,206.87 455.55,207.10 456.59,207.36 457.63,207.64 458.68,207.94 459.72,208.27 460.76,208.63 461.81,209.02 462.85,209.44 463.89,209.90 464.94,210.40 465.98,210.93 467.02,211.51 468.07,212.14 469.11,212.81 470.15,213.54 471.20,214.31 472.24,215.15 473.28,216.04 474.33,217.00 475.37,218.02 476.41,219.10 477.46,220.25 478.50,221.47 479.54,222.76 480.59,224.12 481.63,225.54 482.67,227.04 483.72,228.60 484.76,230.22 485.80,231.90 486.85,233.64 487.89,235.43 488.93,237.27 489.98,239.14 491.02,241.05 492.06,242.98 493.11,244.94 494.15,246.90 495.19,248.86 496.24,250.82 497.28,252.76 498.32,254.68 499.37,256.57 500.41,258.43 501.45,260.24 502.50,262.00 503.54,263.71 504.58,265.36 505.63,266.95 506.67,268.47 507.71,269.93 508.76,271.31 509.80,272.63" fill="none" stroke="#1c1cc4" stroke-width="1.3"/>
<polyline points="384.60,203.41 385.65,203.41 386.69,203.41 387.73,203.41 388.78,203.41 389.82,203.42 390.86,203.42 391.91,203.42 392.95,203.42 393.99,203.42 395.04,203.42 396.08,203.42 397.12,203.42 398.17,203.43 399.21,203.43 400.25,203.43 401.30,203.43 402.34,203.44 403.38,203.44 404.43,203.44 405.47,203.44 406.51,203.45 407.56,203.45 408.60,203.46 409.64,203.46 410.69,203.47 411.73,203.47 412.77,203.48 413.82,203.49 414.86,203.49 415.90,203.50 416.95,203.51 417.99,203.52 419.03,203.53 420.08,203.55 421.12,203.56 422.16,203.58 423.21,203.59 424.25,203.61 425.29,203.63 426.34,203.65 427.38,203.67 428.42,203.70 429.47,203.73 430.51,203.76 431.55,203.79 432.60,203.83 433.64,203.87 434.68,203.91 435.73,203.96 436.77,204.01 437.81,204.07 438.86,204.13 439.90,204.20 440.94,204.28 441.99,204.36 443.03,204.45 444.07,204.55 445.12,204.66 446.16,204.77 447.20,204.90 448.24,205.04 449.29,205.20 450.33,205.36 451.37,205.55 452.42,205.75 453.46,205.96 454.50,206.20 455.55,206.46 456.59,206.74 457.63,207.04 458.68,207.38 459.72,207.74 460.76,208.13 461.81,208.55 462.85,209.01 463.89,209.51 464.94,210.05 465.98,210.63 467.02,211.26 468.07,211.94 469.11,212.67 470.15,213.45 471.20,214.30 472.24,215.20 473.28,216.16 474.33,217.18 475.37,218.28 476.41,219.44 477.46,220.66 478.50,221.96 479.54,223.33 480.59,224.77 481.63,226.27 482.67,227.85 483.72,229.48 484.76,231.18 485.80,232.93 486.85,234.74 487.89,236.59 488.93,238.49 489.98,240.41 491.02,242.37 492.06,244.34 493.11,246.32 494.15,248.30 495.19,250.28 496.24,252.25 497.28,254.19 498.32,256.10 499.37,257.98 500.41,259.81 501.45,261.60 502.50,263.33 503.54,265.00 504.58,266.61 505.63,268.15 506.67,269.62 507.71,271.03 508.76,272.37 509.80,273.64" fill="none" stroke="#c42a4a" stroke-width="1.3"/>
<rect x="382.55" y="204.95" width="4.10" height="4.10" fill="#7a5c1c"/>
<path d="M400.25,203.66V208.67M398.65,203.66h3.2M398.65,208.67h3.2" stroke="#7a5c1c" stroke-width="1" fill="none"/>
<rect x="398.20" y="204.11" width="4.10" height="4.10" fill="#7a5c1c"/>
<path d="M415.90,206.75V215.11M414.30,206.75h3.2M414.30,215.11h3.2" stroke="#7a5c1c" stroke-width="1" fill="none"/>
<rect x="413.85" y="208.88" width="4.10" height="4.10" fill="#7a5c1c"/>
<path d="M431.55,204.16V210.85M429.95,204.16h3.2M429.95,210.85h3.2" stroke="#7a5c1c" stroke-width="1" fill="none"/>
<rect x="429.50" y="205.45" width="4.10" height="4.10" fill="#7a5c1c"/>
<rect x="445.15" y="204.11" width="4.10" height="4.10" fill="#7a5c1c"/>
<rect x="460.80" y="205.79" width="4.10" height="4.10" fill="#7a5c1c"/>
<rect x="476.45" y="211.64" width="4.10" height="4.10" fill="#7a5c1c"/>
<path d="M494.15,264.43V271.12M492.55,264.43h3.2M492.55,271.12h3.2" stroke="#7a5c1c" stroke-width="1" fill="none"/>
<rect x="492.10" y="265.73" width="4.10" height="4.10" fill="#7a5c1c"/>
<rect x="507.75" y="279.44" width="4.10" height="4.10" fill="#7a5c1c"/>
<path d="M384.60,198.13L386.85,202.33L382.35,202.33Z" fill="#1f9a30"/>
<path d="M400.25,197.05V200.40M398.65,197.05h3.2M398.65,200.40h3.2" stroke="#1f9a30" stroke-width="1" fill="none"/>
<path d="M400.25,196.37L402.50,200.57L398.00,200.57Z" fill="#1f9a30"/>
<path d="M415.90,195.30V200.31M414.30,195.30h3.2M414.30,200.31h3.2" stroke="#1f9a30" stroke-width="1" fill="none"/>
<path d="M415.90,195.45L418.15,199.65L413.65,199.65Z" fill="#1f9a30"/>
<path d="M431.55,202.14L433.80,206.34L429.30,206.34Z" fill="#1f9a30"/>
<path d="M447.20,210.68V215.69M445.60,210.68h3.2M445.60,215.69h3.2" stroke="#1f9a30" stroke-width="1" fill="none"/>
<path d="M447.20,210.84L449.45,215.04L444.95,215.04Z" fill="#1f9a30"/>
<path d="M462.85,230.32V233.67M461.25,230.32h3.2M461.25,233.67h3.2" stroke="#1f9a30" stroke-width="1" fill="none"/>
<path d="M462.85,229.65L465.10,233.85L460.60,233.85Z" fill="#1f9a30"/>
<path d="M478.50,270.70V274.05M476.90,270.70h3.2M476.90,274.05h3.2" stroke="#1f9a30" stroke-width="1" fill="none"/>
<path d="M478.50,270.03L480.75,274.23L476.25,274.23Z" fill="#1f9a30"/>
<path d="M494.15,281.98L496.40,286.18L491.90,286.18Z" fill="#1f9a30"/>
<path d="M509.80,284.91L512.05,289.11L507.55,289.11Z" fill="#1f9a30"/>
<circle cx="384.60" cy="204.49" r="2.05" fill="#1414ac"/>
<circle cx="400.25" cy="208.84" r="2.05" fill="#1414ac"/>
<circle cx="415.90" cy="207.84" r="2.05" fill="#1414ac"/>
<circle cx="431.55" cy="206.16" r="2.05" fill="#1414ac"/>
<circle cx="447.20" cy="203.66" r="2.05" fill="#1414ac"/>
<circle cx="462.85" cy="204.66" r="2.05" fill="#1414ac"/>
<circle cx="478.50" cy="215.36" r="2.05" fill="#1414ac"/>
<path d="M494.15,254.07V257.41M492.55,254.07h3.2M492.55,257.41h3.2" stroke="#1414ac" stroke-width="1" fill="none"/>
<circle cx="494.15" cy="255.74" r="2.05" fill="#1414ac"/>
<circle cx="509.80" cy="272.38" r="2.05" fill="#1414ac"/>
<path d="M384.60,200.31V207.00M383.00,200.31h3.2M383.00,207.00h3.2" stroke="#c41c1c" stroke-width="1" fill="none"/>
<path d="M384.60,206.01L386.85,201.81L382.35,201.81Z" fill="#c41c1c"/>
<path d="M400.25,200.31V207.00M398.65,200.31h3.2M398.65,207.00h3.2" stroke="#c41c1c" stroke-width="1" fill="none"/>
<path d="M400.25,206.01L402.50,201.81L398.00,201.81Z" fill="#c41c1c"/>
<path d="M415.90,199.48V207.84M414.30,199.48h3.2M414.30,207.84h3.2" stroke="#c41c1c" stroke-width="1" fill="none"/>
<path d="M415.90,206.01L418.15,201.81L413.65,201.81Z" fill="#c41c1c"/>
<path d="M431.55,201.15V207.84M429.95,201.15h3.2M429.95,207.84h3.2" stroke="#c41c1c" stroke-width="1" fill="none"/>
<path d="M431.55,206.84L433.80,202.64L429.30,202.64Z" fill="#c41c1c"/>
<path d="M447.20,200.98V206.00M445.60,200.98h3.2M445.60,206.00h3.2" stroke="#c41c1c" stroke-width="1" fill="none"/>
<path d="M447.20,205.84L449.45,201.64L444.95,201.64Z" fill="#c41c1c"/>
<path d="M462.85,201.32V208.00M461.25,201.32h3.2M461.25,208.00h3.2" stroke="#c41c1c" stroke-width="1" fill="none"/>
<path d="M462.85,207.01L465.10,202.81L460.60,202.81Z" fill="#c41c1c"/>
<path d="M478.50,212.27V218.95M476.90,212.27h3.2M476.90,218.95h3.2" stroke="#c41c1c" stroke-width="1" fill="none"/>
<path d="M478.50,217.96L480.75,213.76L476.25,213.76Z" fill="#c41c1c"/>
<path d="M494.15,258.09L496.40,253.89L491.90,253.89Z" fill="#c41c1c"/>
<path d="M509.80,276.23L512.05,272.03L507.55,272.03Z" fill="#c41c1c"/>
<line x1="378.60" y1="186.10" x2="378.60" y2="291.10" stroke="#1a1a1a" stroke-width="1.1"/>
<line x1="378.10" y1="290.60" x2="509.80" y2="290.60" stroke="#1a1a1a" stroke-width="1.1"/>
<line x1="375.60" y1="290.60" x2="378.60" y2="290.60" stroke="#1a1a1a" stroke-width="1"/>
<text transform="translate(375.50,293.00) scale(1,1.08)" text-anchor="end" class="tk">0</text>
<line x1="375.60" y1="269.70" x2="378.60" y2="269.70" stroke="#1a1a1a" stroke-width="1"/>
<text transform="translate(375.50,272.10) scale(1,1.08)" text-anchor="end" class="tk">25</text>
<line x1="375.60" y1="248.80" x2="378.60" y2="248.80" stroke="#1a1a1a" stroke-width="1"/>
<text transform="translate(375.50,251.20) scale(1,1.08)" text-anchor="end" class="tk">50</text>
<line x1="375.60" y1="227.90" x2="378.60" y2="227.90" stroke="#1a1a1a" stroke-width="1"/>
<text transform="translate(375.50,230.30) scale(1,1.08)" text-anchor="end" class="tk">75</text>
<line x1="375.60" y1="207.00" x2="378.60" y2="207.00" stroke="#1a1a1a" stroke-width="1"/>
<text transform="translate(375.50,209.40) scale(1,1.08)" text-anchor="end" class="tk">100</text>
<line x1="375.60" y1="186.10" x2="378.60" y2="186.10" stroke="#1a1a1a" stroke-width="1"/>
<text transform="translate(375.50,188.50) scale(1,1.08)" text-anchor="end" class="tk">125</text>
<line x1="378.60" y1="290.60" x2="378.60" y2="293.20" stroke="#1a1a1a" stroke-width="1"/>
<text transform="translate(378.60,301.50) scale(1,1.08)" text-anchor="middle" class="tk">1</text>
<line x1="388.47" y1="290.60" x2="388.47" y2="292.60" stroke="#1a1a1a" stroke-width="0.9"/>
<line x1="394.25" y1="290.60" x2="394.25" y2="292.60" stroke="#1a1a1a" stroke-width="0.9"/>
<line x1="398.35" y1="290.60" x2="398.35" y2="292.60" stroke="#1a1a1a" stroke-width="0.9"/>
<line x1="401.53" y1="290.60" x2="401.53" y2="292.60" stroke="#1a1a1a" stroke-width="0.9"/>
<line x1="404.12" y1="290.60" x2="404.12" y2="292.60" stroke="#1a1a1a" stroke-width="0.9"/>
<line x1="406.32" y1="290.60" x2="406.32" y2="292.60" stroke="#1a1a1a" stroke-width="0.9"/>
<line x1="408.22" y1="290.60" x2="408.22" y2="292.60" stroke="#1a1a1a" stroke-width="0.9"/>
<line x1="409.90" y1="290.60" x2="409.90" y2="292.60" stroke="#1a1a1a" stroke-width="0.9"/>
<line x1="411.40" y1="290.60" x2="411.40" y2="293.20" stroke="#1a1a1a" stroke-width="1"/>
<text transform="translate(411.40,301.50) scale(1,1.08)" text-anchor="middle" class="tk">10</text>
<line x1="421.27" y1="290.60" x2="421.27" y2="292.60" stroke="#1a1a1a" stroke-width="0.9"/>
<line x1="427.05" y1="290.60" x2="427.05" y2="292.60" stroke="#1a1a1a" stroke-width="0.9"/>
<line x1="431.15" y1="290.60" x2="431.15" y2="292.60" stroke="#1a1a1a" stroke-width="0.9"/>
<line x1="434.33" y1="290.60" x2="434.33" y2="292.60" stroke="#1a1a1a" stroke-width="0.9"/>
<line x1="436.92" y1="290.60" x2="436.92" y2="292.60" stroke="#1a1a1a" stroke-width="0.9"/>
<line x1="439.12" y1="290.60" x2="439.12" y2="292.60" stroke="#1a1a1a" stroke-width="0.9"/>
<line x1="441.02" y1="290.60" x2="441.02" y2="292.60" stroke="#1a1a1a" stroke-width="0.9"/>
<line x1="442.70" y1="290.60" x2="442.70" y2="292.60" stroke="#1a1a1a" stroke-width="0.9"/>
<line x1="444.20" y1="290.60" x2="444.20" y2="293.20" stroke="#1a1a1a" stroke-width="1"/>
<text transform="translate(444.20,301.50) scale(1,1.08)" text-anchor="middle" class="tk">100</text>
<line x1="454.07" y1="290.60" x2="454.07" y2="292.60" stroke="#1a1a1a" stroke-width="0.9"/>
<line x1="459.85" y1="290.60" x2="459.85" y2="292.60" stroke="#1a1a1a" stroke-width="0.9"/>
<line x1="463.95" y1="290.60" x2="463.95" y2="292.60" stroke="#1a1a1a" stroke-width="0.9"/>
<line x1="467.13" y1="290.60" x2="467.13" y2="292.60" stroke="#1a1a1a" stroke-width="0.9"/>
<line x1="469.72" y1="290.60" x2="469.72" y2="292.60" stroke="#1a1a1a" stroke-width="0.9"/>
<line x1="471.92" y1="290.60" x2="471.92" y2="292.60" stroke="#1a1a1a" stroke-width="0.9"/>
<line x1="473.82" y1="290.60" x2="473.82" y2="292.60" stroke="#1a1a1a" stroke-width="0.9"/>
<line x1="475.50" y1="290.60" x2="475.50" y2="292.60" stroke="#1a1a1a" stroke-width="0.9"/>
<line x1="477.00" y1="290.60" x2="477.00" y2="293.20" stroke="#1a1a1a" stroke-width="1"/>
<text transform="translate(477.00,301.50) scale(1,1.08)" text-anchor="middle" class="tk">1,000</text>
<line x1="486.87" y1="290.60" x2="486.87" y2="292.60" stroke="#1a1a1a" stroke-width="0.9"/>
<line x1="492.65" y1="290.60" x2="492.65" y2="292.60" stroke="#1a1a1a" stroke-width="0.9"/>
<line x1="496.75" y1="290.60" x2="496.75" y2="292.60" stroke="#1a1a1a" stroke-width="0.9"/>
<line x1="499.93" y1="290.60" x2="499.93" y2="292.60" stroke="#1a1a1a" stroke-width="0.9"/>
<line x1="502.52" y1="290.60" x2="502.52" y2="292.60" stroke="#1a1a1a" stroke-width="0.9"/>
<line x1="504.72" y1="290.60" x2="504.72" y2="292.60" stroke="#1a1a1a" stroke-width="0.9"/>
<line x1="506.62" y1="290.60" x2="506.62" y2="292.60" stroke="#1a1a1a" stroke-width="0.9"/>
<line x1="508.30" y1="290.60" x2="508.30" y2="292.60" stroke="#1a1a1a" stroke-width="0.9"/>
<line x1="509.80" y1="290.60" x2="509.80" y2="293.20" stroke="#1a1a1a" stroke-width="1"/>
<text transform="translate(509.80,301.50) scale(1,1.08)" text-anchor="middle" class="tk">10,000</text>
<text transform="translate(451.00,311.00) scale(1,1.12)" text-anchor="middle" class="at">LXH254 (nmol/L)</text>
<text transform="translate(361.10,235.80) rotate(-90) scale(1,1.12)" text-anchor="middle" class="at" style="font-size:7.3px">% Control growth</text>
<text transform="translate(398.00,175.50) scale(1,1.05)" class="ti"><tspan>MIA PaCa-2 (KRAS</tspan><tspan class="sup" dy="-3.2" dx="0.8">G12C</tspan><tspan dy="3.2">)</tspan></text>
<line x1="385" y1="56.9" x2="397.3" y2="56.9" stroke="#1c1cc4" stroke-width="1.6"/>
<circle cx="391.2" cy="56.9" r="2.1" fill="#1414ac"/>
<text transform="translate(402.60,60.50) scale(1,1.08)" class="lg">Parental</text>
<line x1="385" y1="68.9" x2="397.3" y2="68.9" stroke="#33a93a" stroke-width="1.6"/>
<path d="M391.2,66.50000000000001L393.5,70.8L388.9,70.8Z" fill="#1f9a30"/>
<text transform="translate(402.60,72.50) scale(1,1.08)" class="lg">ARAF knockout</text>
<line x1="385" y1="80.4" x2="397.3" y2="80.4" stroke="#967028" stroke-width="1.6"/>
<rect x="389.09999999999997" y="78.30000000000001" width="4.2" height="4.2" fill="#7a5c1c"/>
<text transform="translate(402.60,84.00) scale(1,1.08)" class="lg">BRAF knockout</text>
<line x1="385" y1="92.2" x2="397.3" y2="92.2" stroke="#d42828" stroke-width="1.6"/>
<path d="M391.2,94.6L393.5,90.30000000000001L388.9,90.30000000000001Z" fill="#c41c1c"/>
<text transform="translate(402.60,95.80) scale(1,1.08)" class="lg">CRAF knockout</text>
</svg>
</body></html>
